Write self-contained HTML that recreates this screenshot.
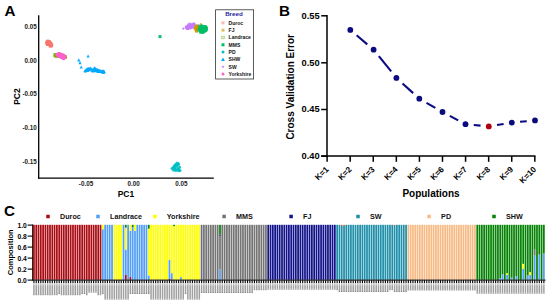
<!DOCTYPE html>
<html><head><meta charset="utf-8"><style>
html,body{margin:0;padding:0;background:#fff;}
svg{display:block;font-family:"Liberation Sans", sans-serif;}
</style></head><body>
<svg width="550" height="303" viewBox="0 0 550 303">
<rect width="550" height="303" fill="#fff"/>
<text x="4.50" y="15.90" font-size="15.2" text-anchor="start" fill="#000" font-weight="bold" >A</text>
<line x1="38.7" y1="15.3" x2="38.7" y2="178.8" stroke="#000" stroke-width="1.3"/>
<line x1="38.1" y1="178.2" x2="213.8" y2="178.2" stroke="#000" stroke-width="1.3"/>
<text x="36.80" y="28.60" font-size="6.3" text-anchor="end" fill="#222" font-weight="bold" >0.05</text>
<text x="36.80" y="62.80" font-size="6.3" text-anchor="end" fill="#222" font-weight="bold" >0.00</text>
<text x="36.80" y="96.40" font-size="6.3" text-anchor="end" fill="#222" font-weight="bold" >-0.05</text>
<text x="36.80" y="130.10" font-size="6.3" text-anchor="end" fill="#222" font-weight="bold" >-0.10</text>
<text x="36.80" y="163.60" font-size="6.3" text-anchor="end" fill="#222" font-weight="bold" >-0.15</text>
<text x="86.00" y="185.80" font-size="6.3" text-anchor="middle" fill="#222" font-weight="bold" >-0.05</text>
<text x="133.60" y="185.80" font-size="6.3" text-anchor="middle" fill="#222" font-weight="bold" >0.00</text>
<text x="181.40" y="185.80" font-size="6.3" text-anchor="middle" fill="#222" font-weight="bold" >0.05</text>
<text x="125.90" y="196.60" font-size="8.5" text-anchor="middle" fill="#000" font-weight="bold" >PC1</text>
<text transform="translate(20.0,96.6) rotate(-90)" font-size="8.5" font-weight="bold" text-anchor="middle" fill="#000">PC2</text>
<rect x="47.95" y="43.41" width="3.00" height="3.00" fill="#F8766D" fill-opacity="0.7"/>
<rect x="49.08" y="44.15" width="3.00" height="3.00" fill="#F8766D" fill-opacity="0.7"/>
<rect x="45.78" y="41.67" width="3.00" height="3.00" fill="#F8766D" fill-opacity="0.7"/>
<rect x="47.11" y="41.44" width="3.00" height="3.00" fill="#F8766D" fill-opacity="0.7"/>
<rect x="47.15" y="41.71" width="3.00" height="3.00" fill="#F8766D" fill-opacity="0.7"/>
<rect x="48.08" y="42.71" width="3.00" height="3.00" fill="#F8766D" fill-opacity="0.7"/>
<rect x="49.20" y="41.87" width="3.00" height="3.00" fill="#F8766D" fill-opacity="0.7"/>
<rect x="47.41" y="42.62" width="3.00" height="3.00" fill="#F8766D" fill-opacity="0.7"/>
<rect x="49.92" y="43.34" width="3.00" height="3.00" fill="#F8766D" fill-opacity="0.7"/>
<rect x="45.59" y="41.27" width="3.00" height="3.00" fill="#F8766D" fill-opacity="0.7"/>
<rect x="49.73" y="44.55" width="3.00" height="3.00" fill="#F8766D" fill-opacity="0.7"/>
<rect x="45.98" y="42.75" width="3.00" height="3.00" fill="#F8766D" fill-opacity="0.7"/>
<rect x="48.08" y="43.00" width="3.00" height="3.00" fill="#F8766D" fill-opacity="0.7"/>
<rect x="48.91" y="41.79" width="3.00" height="3.00" fill="#F8766D" fill-opacity="0.7"/>
<rect x="47.03" y="40.86" width="3.00" height="3.00" fill="#F8766D" fill-opacity="0.7"/>
<rect x="45.57" y="41.55" width="3.00" height="3.00" fill="#F8766D" fill-opacity="0.7"/>
<rect x="49.06" y="43.96" width="3.00" height="3.00" fill="#F8766D" fill-opacity="0.7"/>
<rect x="47.57" y="42.48" width="3.00" height="3.00" fill="#F8766D" fill-opacity="0.7"/>
<rect x="45.37" y="40.83" width="3.00" height="3.00" fill="#F8766D" fill-opacity="0.7"/>
<rect x="46.85" y="40.50" width="3.00" height="3.00" fill="#F8766D" fill-opacity="0.7"/>
<rect x="46.36" y="42.43" width="3.00" height="3.00" fill="#F8766D" fill-opacity="0.7"/>
<rect x="48.07" y="40.17" width="3.00" height="3.00" fill="#F8766D" fill-opacity="0.7"/>
<rect x="46.87" y="40.68" width="3.00" height="3.00" fill="#F8766D" fill-opacity="0.7"/>
<rect x="49.65" y="42.44" width="3.00" height="3.00" fill="#F8766D" fill-opacity="0.7"/>
<rect x="46.14" y="42.71" width="3.00" height="3.00" fill="#F8766D" fill-opacity="0.7"/>
<rect x="48.69" y="44.61" width="3.00" height="3.00" fill="#F8766D" fill-opacity="0.7"/>
<rect x="48.59" y="41.15" width="3.00" height="3.00" fill="#F8766D" fill-opacity="0.7"/>
<rect x="46.68" y="41.15" width="3.00" height="3.00" fill="#F8766D" fill-opacity="0.7"/>
<rect x="47.67" y="41.54" width="3.00" height="3.00" fill="#F8766D" fill-opacity="0.7"/>
<rect x="46.21" y="39.67" width="3.00" height="3.00" fill="#F8766D" fill-opacity="0.7"/>
<rect x="45.68" y="42.39" width="3.00" height="3.00" fill="#F8766D" fill-opacity="0.7"/>
<rect x="46.55" y="39.77" width="3.00" height="3.00" fill="#F8766D" fill-opacity="0.7"/>
<rect x="45.59" y="40.62" width="3.00" height="3.00" fill="#F8766D" fill-opacity="0.7"/>
<rect x="50.27" y="43.52" width="3.00" height="3.00" fill="#F8766D" fill-opacity="0.7"/>
<rect x="47.56" y="40.36" width="3.00" height="3.00" fill="#F8766D" fill-opacity="0.7"/>
<rect x="47.81" y="41.50" width="3.00" height="3.00" fill="#F8766D" fill-opacity="0.7"/>
<rect x="49.78" y="43.78" width="3.00" height="3.00" fill="#F8766D" fill-opacity="0.7"/>
<rect x="46.08" y="42.81" width="3.00" height="3.00" fill="#F8766D" fill-opacity="0.7"/>
<rect x="47.62" y="40.54" width="3.00" height="3.00" fill="#F8766D" fill-opacity="0.7"/>
<rect x="47.29" y="41.72" width="3.00" height="3.00" fill="#F8766D" fill-opacity="0.7"/>
<rect x="53.87" y="53.26" width="3.00" height="3.00" fill="#7CAE00" fill-opacity="0.9"/>
<rect x="53.63" y="54.18" width="3.00" height="3.00" fill="#7CAE00" fill-opacity="0.9"/>
<rect x="53.78" y="53.45" width="3.00" height="3.00" fill="#7CAE00" fill-opacity="0.9"/>
<rect x="54.36" y="54.32" width="3.00" height="3.00" fill="#7CAE00" fill-opacity="0.9"/>
<rect x="53.68" y="53.73" width="3.00" height="3.00" fill="#7CAE00" fill-opacity="0.9"/>
<rect x="54.71" y="54.34" width="3.00" height="3.00" fill="#7CAE00" fill-opacity="0.9"/>
<rect x="55.30" y="54.31" width="3.00" height="3.00" fill="#7CAE00" fill-opacity="0.9"/>
<rect x="54.11" y="53.68" width="3.00" height="3.00" fill="#7CAE00" fill-opacity="0.9"/>
<rect x="54.29" y="54.34" width="3.00" height="3.00" fill="#7CAE00" fill-opacity="0.9"/>
<rect x="55.61" y="53.31" width="3.00" height="3.00" fill="#7CAE00" fill-opacity="0.9"/>
<rect x="57.73" y="54.08" width="3.00" height="3.00" fill="#7CAE00" fill-opacity="0.85"/>
<rect x="58.13" y="54.71" width="3.00" height="3.00" fill="#7CAE00" fill-opacity="0.85"/>
<rect x="60.62" y="54.16" width="3.00" height="3.00" fill="#7CAE00" fill-opacity="0.85"/>
<rect x="56.53" y="54.55" width="3.00" height="3.00" fill="#7CAE00" fill-opacity="0.85"/>
<rect x="59.08" y="54.92" width="3.00" height="3.00" fill="#7CAE00" fill-opacity="0.85"/>
<rect x="63.17" y="55.23" width="3.00" height="3.00" fill="#7CAE00" fill-opacity="0.85"/>
<rect x="60.11" y="55.04" width="3.00" height="3.00" fill="#7CAE00" fill-opacity="0.85"/>
<rect x="61.23" y="53.63" width="3.00" height="3.00" fill="#7CAE00" fill-opacity="0.85"/>
<rect x="62.80" y="55.45" width="3.00" height="3.00" fill="#7CAE00" fill-opacity="0.85"/>
<rect x="62.62" y="55.49" width="3.00" height="3.00" fill="#7CAE00" fill-opacity="0.85"/>
<rect x="59.25" y="54.50" width="3.00" height="3.00" fill="#7CAE00" fill-opacity="0.85"/>
<rect x="57.22" y="55.09" width="3.00" height="3.00" fill="#7CAE00" fill-opacity="0.85"/>
<rect x="56.94" y="53.67" width="3.00" height="3.00" fill="#7CAE00" fill-opacity="0.85"/>
<rect x="57.96" y="53.91" width="3.00" height="3.00" fill="#7CAE00" fill-opacity="0.85"/>
<rect x="58.88" y="53.63" width="3.00" height="3.00" fill="#7CAE00" fill-opacity="0.85"/>
<rect x="63.90" y="55.30" width="2.80" height="2.80" fill="#7CAE00" fill-opacity="0.85"/>
<rect x="63.95" y="55.57" width="2.80" height="2.80" fill="#7CAE00" fill-opacity="0.85"/>
<rect x="63.91" y="56.24" width="2.80" height="2.80" fill="#7CAE00" fill-opacity="0.85"/>
<circle cx="61.91" cy="57.19" r="1.50" fill="#FF61CC" fill-opacity="0.75"/>
<circle cx="59.39" cy="56.09" r="1.50" fill="#FF61CC" fill-opacity="0.75"/>
<circle cx="61.90" cy="56.78" r="1.50" fill="#FF61CC" fill-opacity="0.75"/>
<circle cx="63.82" cy="56.38" r="1.50" fill="#FF61CC" fill-opacity="0.75"/>
<circle cx="58.20" cy="55.09" r="1.50" fill="#FF61CC" fill-opacity="0.75"/>
<circle cx="61.33" cy="56.14" r="1.50" fill="#FF61CC" fill-opacity="0.75"/>
<circle cx="60.12" cy="56.62" r="1.50" fill="#FF61CC" fill-opacity="0.75"/>
<circle cx="61.89" cy="57.47" r="1.50" fill="#FF61CC" fill-opacity="0.75"/>
<circle cx="61.13" cy="55.65" r="1.50" fill="#FF61CC" fill-opacity="0.75"/>
<circle cx="61.84" cy="57.07" r="1.50" fill="#FF61CC" fill-opacity="0.75"/>
<circle cx="63.06" cy="56.51" r="1.50" fill="#FF61CC" fill-opacity="0.75"/>
<circle cx="63.15" cy="56.09" r="1.50" fill="#FF61CC" fill-opacity="0.75"/>
<circle cx="59.96" cy="53.70" r="1.50" fill="#FF61CC" fill-opacity="0.75"/>
<circle cx="59.22" cy="55.98" r="1.50" fill="#FF61CC" fill-opacity="0.75"/>
<circle cx="60.99" cy="54.91" r="1.50" fill="#FF61CC" fill-opacity="0.75"/>
<circle cx="61.41" cy="54.41" r="1.50" fill="#FF61CC" fill-opacity="0.75"/>
<circle cx="60.66" cy="56.73" r="1.50" fill="#FF61CC" fill-opacity="0.75"/>
<circle cx="63.76" cy="56.28" r="1.50" fill="#FF61CC" fill-opacity="0.75"/>
<circle cx="62.13" cy="54.31" r="1.50" fill="#FF61CC" fill-opacity="0.75"/>
<circle cx="60.84" cy="53.89" r="1.50" fill="#FF61CC" fill-opacity="0.75"/>
<circle cx="58.98" cy="55.06" r="1.50" fill="#FF61CC" fill-opacity="0.75"/>
<circle cx="62.59" cy="56.34" r="1.50" fill="#FF61CC" fill-opacity="0.75"/>
<circle cx="60.41" cy="55.87" r="1.50" fill="#FF61CC" fill-opacity="0.75"/>
<circle cx="60.21" cy="54.56" r="1.50" fill="#FF61CC" fill-opacity="0.75"/>
<circle cx="57.23" cy="55.32" r="1.50" fill="#FF61CC" fill-opacity="0.75"/>
<circle cx="63.99" cy="56.37" r="1.50" fill="#FF61CC" fill-opacity="0.75"/>
<circle cx="58.00" cy="56.35" r="1.50" fill="#FF61CC" fill-opacity="0.75"/>
<circle cx="60.61" cy="56.52" r="1.50" fill="#FF61CC" fill-opacity="0.75"/>
<circle cx="60.83" cy="56.50" r="1.50" fill="#FF61CC" fill-opacity="0.75"/>
<circle cx="63.05" cy="55.35" r="1.50" fill="#FF61CC" fill-opacity="0.75"/>
<circle cx="61.01" cy="56.83" r="1.50" fill="#FF61CC" fill-opacity="0.75"/>
<circle cx="64.03" cy="55.74" r="1.50" fill="#FF61CC" fill-opacity="0.75"/>
<circle cx="62.91" cy="56.50" r="1.50" fill="#FF61CC" fill-opacity="0.75"/>
<circle cx="63.95" cy="55.42" r="1.50" fill="#FF61CC" fill-opacity="0.75"/>
<circle cx="61.14" cy="56.85" r="1.50" fill="#FF61CC" fill-opacity="0.75"/>
<circle cx="63.57" cy="56.32" r="1.50" fill="#FF61CC" fill-opacity="0.75"/>
<circle cx="63.80" cy="56.10" r="1.50" fill="#FF61CC" fill-opacity="0.75"/>
<circle cx="61.16" cy="57.74" r="1.50" fill="#FF61CC" fill-opacity="0.75"/>
<circle cx="64.68" cy="56.88" r="1.50" fill="#FF61CC" fill-opacity="0.75"/>
<circle cx="63.94" cy="58.49" r="1.50" fill="#FF61CC" fill-opacity="0.75"/>
<circle cx="63.60" cy="57.60" r="1.50" fill="#FF61CC" fill-opacity="0.75"/>
<circle cx="64.26" cy="55.56" r="1.50" fill="#FF61CC" fill-opacity="0.75"/>
<circle cx="63.72" cy="56.47" r="1.50" fill="#FF61CC" fill-opacity="0.75"/>
<circle cx="62.17" cy="55.31" r="1.50" fill="#FF61CC" fill-opacity="0.75"/>
<circle cx="61.92" cy="56.45" r="1.50" fill="#FF61CC" fill-opacity="0.75"/>
<circle cx="64.04" cy="57.21" r="1.50" fill="#FF61CC" fill-opacity="0.75"/>
<circle cx="62.08" cy="55.35" r="1.50" fill="#FF61CC" fill-opacity="0.75"/>
<circle cx="64.86" cy="56.76" r="1.50" fill="#FF61CC" fill-opacity="0.75"/>
<circle cx="64.43" cy="56.35" r="1.50" fill="#FF61CC" fill-opacity="0.75"/>
<circle cx="63.44" cy="58.65" r="1.50" fill="#FF61CC" fill-opacity="0.75"/>
<circle cx="62.73" cy="57.80" r="1.50" fill="#FF61CC" fill-opacity="0.75"/>
<circle cx="62.29" cy="56.38" r="1.50" fill="#FF61CC" fill-opacity="0.75"/>
<circle cx="62.07" cy="57.25" r="1.50" fill="#FF61CC" fill-opacity="0.75"/>
<circle cx="63.98" cy="56.78" r="1.50" fill="#FF61CC" fill-opacity="0.75"/>
<circle cx="61.79" cy="57.03" r="1.50" fill="#FF61CC" fill-opacity="0.75"/>
<circle cx="64.82" cy="56.50" r="1.50" fill="#FF61CC" fill-opacity="0.75"/>
<circle cx="64.63" cy="56.67" r="1.50" fill="#FF61CC" fill-opacity="0.75"/>
<circle cx="61.60" cy="56.46" r="1.50" fill="#FF61CC" fill-opacity="0.75"/>
<circle cx="64.87" cy="57.45" r="1.50" fill="#FF61CC" fill-opacity="0.75"/>
<circle cx="63.65" cy="58.19" r="1.50" fill="#FF61CC" fill-opacity="0.75"/>
<circle cx="58.53" cy="54.44" r="1.50" fill="#FF61CC" fill-opacity="0.75"/>
<circle cx="57.89" cy="54.57" r="1.50" fill="#FF61CC" fill-opacity="0.75"/>
<circle cx="57.30" cy="54.20" r="1.50" fill="#FF61CC" fill-opacity="0.75"/>
<circle cx="57.65" cy="54.43" r="1.50" fill="#FF61CC" fill-opacity="0.75"/>
<circle cx="58.74" cy="53.77" r="1.50" fill="#FF61CC" fill-opacity="0.75"/>
<circle cx="58.05" cy="54.38" r="1.50" fill="#FF61CC" fill-opacity="0.75"/>
<circle cx="58.37" cy="54.99" r="1.50" fill="#FF61CC" fill-opacity="0.75"/>
<circle cx="57.18" cy="54.46" r="1.50" fill="#FF61CC" fill-opacity="0.75"/>
<circle cx="58.57" cy="53.75" r="1.50" fill="#FF61CC" fill-opacity="0.75"/>
<circle cx="57.16" cy="54.83" r="1.50" fill="#FF61CC" fill-opacity="0.75"/>
<circle cx="57.33" cy="54.47" r="1.50" fill="#FF61CC" fill-opacity="0.75"/>
<circle cx="58.12" cy="53.83" r="1.50" fill="#FF61CC" fill-opacity="0.75"/>
<circle cx="57.51" cy="54.36" r="1.50" fill="#FF61CC" fill-opacity="0.75"/>
<circle cx="59.47" cy="54.25" r="1.50" fill="#FF61CC" fill-opacity="0.75"/>
<circle cx="59.40" cy="53.91" r="1.50" fill="#FF61CC" fill-opacity="0.75"/>
<circle cx="58.41" cy="55.47" r="1.50" fill="#FF61CC" fill-opacity="0.75"/>
<circle cx="59.55" cy="54.24" r="1.50" fill="#FF61CC" fill-opacity="0.75"/>
<circle cx="59.40" cy="55.20" r="1.50" fill="#FF61CC" fill-opacity="0.75"/>
<circle cx="58.01" cy="54.62" r="1.50" fill="#FF61CC" fill-opacity="0.75"/>
<circle cx="58.52" cy="54.77" r="1.50" fill="#FF61CC" fill-opacity="0.75"/>
<circle cx="58.30" cy="54.26" r="1.50" fill="#FF61CC" fill-opacity="0.75"/>
<circle cx="59.56" cy="53.97" r="1.50" fill="#FF61CC" fill-opacity="0.75"/>
<circle cx="58.38" cy="54.12" r="1.50" fill="#FF61CC" fill-opacity="0.75"/>
<circle cx="59.26" cy="55.14" r="1.50" fill="#FF61CC" fill-opacity="0.75"/>
<circle cx="59.88" cy="54.31" r="1.50" fill="#FF61CC" fill-opacity="0.75"/>
<circle cx="59.17" cy="54.36" r="1.50" fill="#FF61CC" fill-opacity="0.75"/>
<circle cx="57.56" cy="54.55" r="1.50" fill="#FF61CC" fill-opacity="0.75"/>
<circle cx="59.24" cy="53.64" r="1.50" fill="#FF61CC" fill-opacity="0.75"/>
<circle cx="57.95" cy="54.67" r="1.50" fill="#FF61CC" fill-opacity="0.75"/>
<circle cx="57.93" cy="55.11" r="1.50" fill="#FF61CC" fill-opacity="0.75"/>
<path d="M88.10 54.48L89.75 57.58L86.45 57.58Z" fill="#00A9FF" fill-opacity="0.95"/>
<path d="M78.80 58.27L80.45 61.38L77.15 61.38Z" fill="#00A9FF" fill-opacity="0.95"/>
<path d="M80.00 61.07L81.65 64.18L78.35 64.18Z" fill="#00A9FF" fill-opacity="0.95"/>
<path d="M81.20 65.38L82.85 68.48L79.55 68.48Z" fill="#00A9FF" fill-opacity="0.95"/>
<path d="M87.12 68.59L88.77 71.69L85.47 71.69Z" fill="#00A9FF" fill-opacity="0.8"/>
<path d="M90.23 66.74L91.88 69.85L88.58 69.85Z" fill="#00A9FF" fill-opacity="0.8"/>
<path d="M85.44 69.20L87.09 72.30L83.79 72.30Z" fill="#00A9FF" fill-opacity="0.8"/>
<path d="M87.35 68.10L89.00 71.20L85.70 71.20Z" fill="#00A9FF" fill-opacity="0.8"/>
<path d="M84.97 68.97L86.62 72.08L83.32 72.08Z" fill="#00A9FF" fill-opacity="0.8"/>
<path d="M88.29 67.48L89.94 70.58L86.64 70.58Z" fill="#00A9FF" fill-opacity="0.8"/>
<path d="M90.19 66.41L91.84 69.52L88.54 69.52Z" fill="#00A9FF" fill-opacity="0.8"/>
<path d="M87.56 68.27L89.21 71.38L85.91 71.38Z" fill="#00A9FF" fill-opacity="0.8"/>
<path d="M87.52 67.61L89.17 70.71L85.87 70.71Z" fill="#00A9FF" fill-opacity="0.8"/>
<path d="M88.82 67.76L90.47 70.86L87.17 70.86Z" fill="#00A9FF" fill-opacity="0.8"/>
<path d="M89.08 66.69L90.73 69.79L87.43 69.79Z" fill="#00A9FF" fill-opacity="0.8"/>
<path d="M87.80 68.93L89.45 72.04L86.15 72.04Z" fill="#00A9FF" fill-opacity="0.8"/>
<path d="M88.48 67.17L90.13 70.28L86.83 70.28Z" fill="#00A9FF" fill-opacity="0.8"/>
<path d="M86.40 67.44L88.05 70.54L84.75 70.54Z" fill="#00A9FF" fill-opacity="0.8"/>
<path d="M88.44 67.58L90.09 70.68L86.79 70.68Z" fill="#00A9FF" fill-opacity="0.8"/>
<path d="M85.34 69.38L86.99 72.48L83.69 72.48Z" fill="#00A9FF" fill-opacity="0.8"/>
<path d="M88.24 67.40L89.89 70.50L86.59 70.50Z" fill="#00A9FF" fill-opacity="0.8"/>
<path d="M87.92 66.68L89.57 69.78L86.27 69.78Z" fill="#00A9FF" fill-opacity="0.8"/>
<path d="M94.04 67.07L95.69 70.18L92.39 70.18Z" fill="#00A9FF" fill-opacity="0.8"/>
<path d="M94.00 67.14L95.65 70.25L92.35 70.25Z" fill="#00A9FF" fill-opacity="0.8"/>
<path d="M92.43 68.83L94.08 71.94L90.78 71.94Z" fill="#00A9FF" fill-opacity="0.8"/>
<path d="M95.50 66.85L97.15 69.95L93.85 69.95Z" fill="#00A9FF" fill-opacity="0.8"/>
<path d="M94.57 68.40L96.22 71.51L92.92 71.51Z" fill="#00A9FF" fill-opacity="0.8"/>
<path d="M93.66 69.17L95.31 72.27L92.01 72.27Z" fill="#00A9FF" fill-opacity="0.8"/>
<path d="M94.02 68.19L95.67 71.30L92.37 71.30Z" fill="#00A9FF" fill-opacity="0.8"/>
<path d="M93.70 68.05L95.35 71.15L92.05 71.15Z" fill="#00A9FF" fill-opacity="0.8"/>
<path d="M92.93 68.73L94.58 71.84L91.28 71.84Z" fill="#00A9FF" fill-opacity="0.8"/>
<path d="M92.85 69.43L94.50 72.54L91.20 72.54Z" fill="#00A9FF" fill-opacity="0.8"/>
<path d="M94.43 68.97L96.08 72.08L92.78 72.08Z" fill="#00A9FF" fill-opacity="0.8"/>
<path d="M95.26 67.72L96.91 70.83L93.61 70.83Z" fill="#00A9FF" fill-opacity="0.8"/>
<path d="M94.99 67.68L96.64 70.79L93.34 70.79Z" fill="#00A9FF" fill-opacity="0.8"/>
<path d="M91.06 66.98L92.71 70.09L89.41 70.09Z" fill="#00A9FF" fill-opacity="0.8"/>
<path d="M92.21 67.73L93.86 70.83L90.56 70.83Z" fill="#00A9FF" fill-opacity="0.8"/>
<path d="M95.78 68.89L97.43 72.00L94.13 72.00Z" fill="#00A9FF" fill-opacity="0.8"/>
<path d="M91.03 68.40L92.68 71.50L89.38 71.50Z" fill="#00A9FF" fill-opacity="0.8"/>
<path d="M94.57 66.24L96.22 69.35L92.92 69.35Z" fill="#00A9FF" fill-opacity="0.8"/>
<path d="M96.39 68.47L98.04 71.58L94.74 71.58Z" fill="#00A9FF" fill-opacity="0.8"/>
<path d="M101.32 69.71L102.97 72.81L99.67 72.81Z" fill="#00A9FF" fill-opacity="0.8"/>
<path d="M99.65 68.70L101.30 71.80L98.00 71.80Z" fill="#00A9FF" fill-opacity="0.8"/>
<path d="M96.85 67.78L98.50 70.88L95.20 70.88Z" fill="#00A9FF" fill-opacity="0.8"/>
<path d="M97.09 69.40L98.74 72.50L95.44 72.50Z" fill="#00A9FF" fill-opacity="0.8"/>
<path d="M98.98 69.43L100.63 72.54L97.33 72.54Z" fill="#00A9FF" fill-opacity="0.8"/>
<path d="M98.54 68.73L100.19 71.83L96.89 71.83Z" fill="#00A9FF" fill-opacity="0.8"/>
<path d="M99.24 69.86L100.89 72.96L97.59 72.96Z" fill="#00A9FF" fill-opacity="0.8"/>
<path d="M99.12 68.91L100.77 72.02L97.47 72.02Z" fill="#00A9FF" fill-opacity="0.8"/>
<path d="M97.27 67.64L98.92 70.75L95.62 70.75Z" fill="#00A9FF" fill-opacity="0.8"/>
<path d="M98.41 69.76L100.06 72.87L96.76 72.87Z" fill="#00A9FF" fill-opacity="0.8"/>
<path d="M96.68 68.77L98.33 71.88L95.03 71.88Z" fill="#00A9FF" fill-opacity="0.8"/>
<path d="M97.19 68.90L98.84 72.01L95.54 72.01Z" fill="#00A9FF" fill-opacity="0.8"/>
<path d="M100.23 69.37L101.88 72.48L98.58 72.48Z" fill="#00A9FF" fill-opacity="0.8"/>
<path d="M95.41 67.86L97.06 70.96L93.76 70.96Z" fill="#00A9FF" fill-opacity="0.8"/>
<path d="M100.17 69.38L101.82 72.48L98.52 72.48Z" fill="#00A9FF" fill-opacity="0.8"/>
<path d="M97.19 69.31L98.84 72.41L95.54 72.41Z" fill="#00A9FF" fill-opacity="0.8"/>
<path d="M98.41 69.08L100.06 72.19L96.76 72.19Z" fill="#00A9FF" fill-opacity="0.8"/>
<path d="M101.92 69.88L103.57 72.98L100.27 72.98Z" fill="#00A9FF" fill-opacity="0.8"/>
<path d="M102.30 69.94L103.95 73.05L100.65 73.05Z" fill="#00A9FF" fill-opacity="0.8"/>
<path d="M102.98 70.12L104.63 73.23L101.33 73.23Z" fill="#00A9FF" fill-opacity="0.8"/>
<path d="M102.60 70.13L104.25 73.23L100.95 73.23Z" fill="#00A9FF" fill-opacity="0.8"/>
<path d="M103.31 70.15L104.96 73.26L101.66 73.26Z" fill="#00A9FF" fill-opacity="0.8"/>
<path d="M103.03 70.47L104.68 73.57L101.38 73.57Z" fill="#00A9FF" fill-opacity="0.8"/>
<path d="M101.83 69.77L103.48 72.87L100.18 72.87Z" fill="#00A9FF" fill-opacity="0.8"/>
<path d="M102.34 69.44L103.99 72.55L100.69 72.55Z" fill="#00A9FF" fill-opacity="0.8"/>
<path d="M104.04 69.84L105.69 72.95L102.39 72.95Z" fill="#00A9FF" fill-opacity="0.8"/>
<path d="M102.48 70.38L104.13 73.48L100.83 73.48Z" fill="#00A9FF" fill-opacity="0.8"/>
<path d="M103.83 70.79L105.48 73.89L102.18 73.89Z" fill="#00A9FF" fill-opacity="0.8"/>
<path d="M102.25 69.47L103.90 72.57L100.60 72.57Z" fill="#00A9FF" fill-opacity="0.8"/>
<path d="M103.19 69.98L104.84 73.09L101.54 73.09Z" fill="#00A9FF" fill-opacity="0.8"/>
<path d="M102.05 69.43L103.70 72.53L100.40 72.53Z" fill="#00A9FF" fill-opacity="0.8"/>
<path d="M103.61 69.62L105.26 72.72L101.96 72.72Z" fill="#00A9FF" fill-opacity="0.8"/>
<path d="M102.43 69.93L104.08 73.04L100.78 73.04Z" fill="#00A9FF" fill-opacity="0.8"/>
<path d="M103.64 69.75L105.29 72.86L101.99 72.86Z" fill="#00A9FF" fill-opacity="0.8"/>
<path d="M103.75 69.64L105.40 72.75L102.10 72.75Z" fill="#00A9FF" fill-opacity="0.8"/>
<rect x="158.50" y="35.10" width="3.00" height="3.00" fill="#00BE67" fill-opacity="0.95"/>
<path d="M192.86 22.26L194.31 23.71L192.86 25.16L191.41 23.71Z" fill="#C77CFF" fill-opacity="0.75"/>
<path d="M189.12 22.94L190.57 24.39L189.12 25.84L187.67 24.39Z" fill="#C77CFF" fill-opacity="0.75"/>
<path d="M192.92 23.83L194.37 25.28L192.92 26.73L191.47 25.28Z" fill="#C77CFF" fill-opacity="0.75"/>
<path d="M190.36 25.39L191.81 26.84L190.36 28.29L188.91 26.84Z" fill="#C77CFF" fill-opacity="0.75"/>
<path d="M191.38 23.42L192.83 24.87L191.38 26.32L189.93 24.87Z" fill="#C77CFF" fill-opacity="0.75"/>
<path d="M188.45 23.87L189.90 25.32L188.45 26.77L187.00 25.32Z" fill="#C77CFF" fill-opacity="0.75"/>
<path d="M189.00 23.15L190.45 24.60L189.00 26.05L187.55 24.60Z" fill="#C77CFF" fill-opacity="0.75"/>
<path d="M193.74 23.28L195.19 24.73L193.74 26.18L192.29 24.73Z" fill="#C77CFF" fill-opacity="0.75"/>
<path d="M190.09 22.21L191.54 23.66L190.09 25.11L188.64 23.66Z" fill="#C77CFF" fill-opacity="0.75"/>
<path d="M188.15 25.06L189.60 26.51L188.15 27.96L186.70 26.51Z" fill="#C77CFF" fill-opacity="0.75"/>
<path d="M194.21 23.97L195.66 25.42L194.21 26.87L192.76 25.42Z" fill="#C77CFF" fill-opacity="0.75"/>
<path d="M191.79 26.44L193.24 27.89L191.79 29.34L190.34 27.89Z" fill="#C77CFF" fill-opacity="0.75"/>
<path d="M191.16 25.05L192.61 26.50L191.16 27.95L189.71 26.50Z" fill="#C77CFF" fill-opacity="0.75"/>
<path d="M192.72 25.95L194.17 27.40L192.72 28.85L191.27 27.40Z" fill="#C77CFF" fill-opacity="0.75"/>
<path d="M194.18 22.70L195.63 24.15L194.18 25.60L192.73 24.15Z" fill="#C77CFF" fill-opacity="0.75"/>
<path d="M189.44 26.31L190.89 27.76L189.44 29.21L187.99 27.76Z" fill="#C77CFF" fill-opacity="0.75"/>
<path d="M189.29 23.26L190.74 24.71L189.29 26.16L187.84 24.71Z" fill="#C77CFF" fill-opacity="0.75"/>
<path d="M187.90 23.96L189.35 25.41L187.90 26.86L186.45 25.41Z" fill="#C77CFF" fill-opacity="0.75"/>
<path d="M194.12 24.14L195.57 25.59L194.12 27.04L192.67 25.59Z" fill="#C77CFF" fill-opacity="0.75"/>
<path d="M191.34 25.29L192.79 26.74L191.34 28.19L189.89 26.74Z" fill="#C77CFF" fill-opacity="0.75"/>
<path d="M190.67 26.76L192.12 28.21L190.67 29.66L189.22 28.21Z" fill="#C77CFF" fill-opacity="0.75"/>
<path d="M193.98 23.31L195.43 24.76L193.98 26.21L192.53 24.76Z" fill="#C77CFF" fill-opacity="0.75"/>
<path d="M191.13 24.99L192.58 26.44L191.13 27.89L189.68 26.44Z" fill="#C77CFF" fill-opacity="0.75"/>
<path d="M189.12 22.96L190.57 24.41L189.12 25.86L187.67 24.41Z" fill="#C77CFF" fill-opacity="0.75"/>
<path d="M190.96 26.60L192.41 28.05L190.96 29.50L189.51 28.05Z" fill="#C77CFF" fill-opacity="0.75"/>
<path d="M188.42 25.83L189.87 27.28L188.42 28.73L186.97 27.28Z" fill="#C77CFF" fill-opacity="0.75"/>
<path d="M193.41 24.68L194.86 26.13L193.41 27.58L191.96 26.13Z" fill="#C77CFF" fill-opacity="0.75"/>
<path d="M193.03 26.05L194.48 27.50L193.03 28.95L191.58 27.50Z" fill="#C77CFF" fill-opacity="0.75"/>
<path d="M194.17 21.99L195.62 23.44L194.17 24.89L192.72 23.44Z" fill="#C77CFF" fill-opacity="0.75"/>
<path d="M190.53 24.63L191.98 26.08L190.53 27.53L189.08 26.08Z" fill="#C77CFF" fill-opacity="0.75"/>
<path d="M194.28 22.52L195.73 23.97L194.28 25.42L192.83 23.97Z" fill="#C77CFF" fill-opacity="0.75"/>
<path d="M191.34 26.08L192.79 27.53L191.34 28.98L189.89 27.53Z" fill="#C77CFF" fill-opacity="0.75"/>
<path d="M192.53 23.30L193.98 24.75L192.53 26.20L191.08 24.75Z" fill="#C77CFF" fill-opacity="0.75"/>
<path d="M189.22 24.44L190.67 25.89L189.22 27.34L187.77 25.89Z" fill="#C77CFF" fill-opacity="0.75"/>
<path d="M189.50 24.80L190.95 26.25L189.50 27.70L188.05 26.25Z" fill="#C77CFF" fill-opacity="0.75"/>
<path d="M194.26 25.06L195.71 26.51L194.26 27.96L192.81 26.51Z" fill="#C77CFF" fill-opacity="0.75"/>
<path d="M187.43 25.65L188.88 27.10L187.43 28.55L185.98 27.10Z" fill="#C77CFF" fill-opacity="0.75"/>
<path d="M189.06 22.60L190.51 24.05L189.06 25.50L187.61 24.05Z" fill="#C77CFF" fill-opacity="0.75"/>
<path d="M192.22 23.05L193.67 24.50L192.22 25.95L190.77 24.50Z" fill="#C77CFF" fill-opacity="0.75"/>
<path d="M193.79 23.53L195.24 24.98L193.79 26.43L192.34 24.98Z" fill="#C77CFF" fill-opacity="0.75"/>
<path d="M190.77 24.45L192.22 25.90L190.77 27.35L189.32 25.90Z" fill="#C77CFF" fill-opacity="0.75"/>
<path d="M190.78 26.22L192.23 27.67L190.78 29.12L189.33 27.67Z" fill="#C77CFF" fill-opacity="0.75"/>
<path d="M190.49 25.43L191.94 26.88L190.49 28.33L189.04 26.88Z" fill="#C77CFF" fill-opacity="0.75"/>
<path d="M191.71 22.73L193.16 24.18L191.71 25.63L190.26 24.18Z" fill="#C77CFF" fill-opacity="0.75"/>
<path d="M190.96 24.25L192.41 25.70L190.96 27.15L189.51 25.70Z" fill="#C77CFF" fill-opacity="0.75"/>
<path d="M188.80 26.87L190.25 28.32L188.80 29.77L187.35 28.32Z" fill="#C77CFF" fill-opacity="0.75"/>
<path d="M187.20 24.83L188.65 26.28L187.20 27.73L185.75 26.28Z" fill="#C77CFF" fill-opacity="0.75"/>
<path d="M187.18 27.25L188.63 28.70L187.18 30.15L185.73 28.70Z" fill="#C77CFF" fill-opacity="0.75"/>
<path d="M186.74 26.54L188.19 27.99L186.74 29.44L185.29 27.99Z" fill="#C77CFF" fill-opacity="0.75"/>
<path d="M186.08 25.36L187.53 26.81L186.08 28.26L184.63 26.81Z" fill="#C77CFF" fill-opacity="0.75"/>
<path d="M186.63 26.39L188.08 27.84L186.63 29.29L185.18 27.84Z" fill="#C77CFF" fill-opacity="0.75"/>
<path d="M188.50 26.25L189.95 27.70L188.50 29.15L187.05 27.70Z" fill="#C77CFF" fill-opacity="0.75"/>
<path d="M187.89 25.69L189.34 27.14L187.89 28.59L186.44 27.14Z" fill="#C77CFF" fill-opacity="0.75"/>
<path d="M188.48 25.78L189.93 27.23L188.48 28.68L187.03 27.23Z" fill="#C77CFF" fill-opacity="0.75"/>
<path d="M187.51 26.70L188.96 28.15L187.51 29.60L186.06 28.15Z" fill="#C77CFF" fill-opacity="0.75"/>
<path d="M188.07 26.91L189.52 28.36L188.07 29.81L186.62 28.36Z" fill="#C77CFF" fill-opacity="0.75"/>
<path d="M188.66 25.83L190.11 27.28L188.66 28.73L187.21 27.28Z" fill="#C77CFF" fill-opacity="0.75"/>
<path d="M188.24 24.92L189.69 26.37L188.24 27.82L186.79 26.37Z" fill="#C77CFF" fill-opacity="0.75"/>
<path d="M188.82 25.52L190.27 26.97L188.82 28.42L187.37 26.97Z" fill="#C77CFF" fill-opacity="0.75"/>
<path d="M185.94 25.67L187.39 27.12L185.94 28.57L184.49 27.12Z" fill="#C77CFF" fill-opacity="0.75"/>
<path d="M189.05 26.39L190.50 27.84L189.05 29.29L187.60 27.84Z" fill="#C77CFF" fill-opacity="0.75"/>
<path d="M186.13 26.39L187.58 27.84L186.13 29.29L184.68 27.84Z" fill="#C77CFF" fill-opacity="0.75"/>
<path d="M186.64 25.16L188.09 26.61L186.64 28.06L185.19 26.61Z" fill="#C77CFF" fill-opacity="0.75"/>
<path d="M188.52 26.26L189.97 27.71L188.52 29.16L187.07 27.71Z" fill="#C77CFF" fill-opacity="0.75"/>
<path d="M188.81 26.95L190.26 28.40L188.81 29.85L187.36 28.40Z" fill="#C77CFF" fill-opacity="0.75"/>
<path d="M186.91 26.79L188.36 28.24L186.91 29.69L185.46 28.24Z" fill="#C77CFF" fill-opacity="0.75"/>
<path d="M187.53 25.34L188.98 26.79L187.53 28.24L186.08 26.79Z" fill="#C77CFF" fill-opacity="0.75"/>
<path d="M187.49 27.33L188.94 28.78L187.49 30.23L186.04 28.78Z" fill="#C77CFF" fill-opacity="0.75"/>
<path d="M187.14 27.05L188.59 28.50L187.14 29.95L185.69 28.50Z" fill="#C77CFF" fill-opacity="0.75"/>
<path d="M186.54 26.65L187.99 28.10L186.54 29.55L185.09 28.10Z" fill="#C77CFF" fill-opacity="0.75"/>
<path d="M187.99 26.50L189.44 27.95L187.99 29.40L186.54 27.95Z" fill="#C77CFF" fill-opacity="0.75"/>
<path d="M188.28 25.72L189.73 27.17L188.28 28.62L186.83 27.17Z" fill="#C77CFF" fill-opacity="0.75"/>
<path d="M187.84 26.95L189.29 28.40L187.84 29.85L186.39 28.40Z" fill="#C77CFF" fill-opacity="0.75"/>
<path d="M189.31 26.02L190.76 27.47L189.31 28.92L187.86 27.47Z" fill="#C77CFF" fill-opacity="0.75"/>
<path d="M188.37 26.72L189.82 28.17L188.37 29.62L186.92 28.17Z" fill="#C77CFF" fill-opacity="0.75"/>
<path d="M188.26 26.36L189.71 27.81L188.26 29.26L186.81 27.81Z" fill="#C77CFF" fill-opacity="0.75"/>
<path d="M188.48 26.46L189.93 27.91L188.48 29.36L187.03 27.91Z" fill="#C77CFF" fill-opacity="0.75"/>
<path d="M187.55 26.68L189.00 28.13L187.55 29.58L186.10 28.13Z" fill="#C77CFF" fill-opacity="0.75"/>
<path d="M188.63 25.41L190.08 26.86L188.63 28.31L187.18 26.86Z" fill="#C77CFF" fill-opacity="0.75"/>
<path d="M186.27 26.64L187.72 28.09L186.27 29.54L184.82 28.09Z" fill="#C77CFF" fill-opacity="0.75"/>
<path d="M186.46 25.92L187.91 27.37L186.46 28.82L185.01 27.37Z" fill="#C77CFF" fill-opacity="0.75"/>
<path d="M187.02 26.73L188.47 28.18L187.02 29.63L185.57 28.18Z" fill="#C77CFF" fill-opacity="0.75"/>
<path d="M187.52 26.37L188.97 27.82L187.52 29.27L186.07 27.82Z" fill="#C77CFF" fill-opacity="0.75"/>
<path d="M188.85 26.96L190.30 28.41L188.85 29.86L187.40 28.41Z" fill="#C77CFF" fill-opacity="0.75"/>
<path d="M186.72 25.38L188.17 26.83L186.72 28.28L185.27 26.83Z" fill="#C77CFF" fill-opacity="0.75"/>
<path d="M187.95 27.23L189.40 28.68L187.95 30.13L186.50 28.68Z" fill="#C77CFF" fill-opacity="0.75"/>
<path d="M187.61 26.73L189.06 28.18L187.61 29.63L186.16 28.18Z" fill="#C77CFF" fill-opacity="0.75"/>
<path d="M186.53 26.32L187.98 27.77L186.53 29.22L185.08 27.77Z" fill="#C77CFF" fill-opacity="0.75"/>
<path d="M188.62 25.02L190.07 26.47L188.62 27.92L187.17 26.47Z" fill="#C77CFF" fill-opacity="0.75"/>
<path d="M189.27 26.22L190.72 27.67L189.27 29.12L187.82 27.67Z" fill="#C77CFF" fill-opacity="0.75"/>
<path d="M183.30 27.20L184.70 28.60L183.30 30.00L181.90 28.60Z" fill="#C77CFF" fill-opacity="0.9"/>
<path d="M198.70 23.70L200.00 25.00L198.70 26.30L197.40 25.00Z" fill="#C77CFF" fill-opacity="0.9"/>
<rect x="195.13" y="26.61" width="2.80" height="2.80" fill="#CD9600" fill-opacity="0.85"/>
<rect x="193.71" y="27.54" width="2.80" height="2.80" fill="#CD9600" fill-opacity="0.85"/>
<rect x="196.43" y="27.10" width="2.80" height="2.80" fill="#CD9600" fill-opacity="0.85"/>
<rect x="196.10" y="26.32" width="2.80" height="2.80" fill="#CD9600" fill-opacity="0.85"/>
<rect x="196.09" y="25.09" width="2.80" height="2.80" fill="#CD9600" fill-opacity="0.85"/>
<rect x="195.22" y="29.86" width="2.80" height="2.80" fill="#CD9600" fill-opacity="0.85"/>
<rect x="195.50" y="27.86" width="2.80" height="2.80" fill="#CD9600" fill-opacity="0.85"/>
<rect x="194.72" y="25.26" width="2.80" height="2.80" fill="#CD9600" fill-opacity="0.85"/>
<rect x="194.93" y="24.43" width="2.80" height="2.80" fill="#CD9600" fill-opacity="0.85"/>
<rect x="195.32" y="24.86" width="2.80" height="2.80" fill="#CD9600" fill-opacity="0.85"/>
<rect x="194.17" y="26.50" width="2.80" height="2.80" fill="#CD9600" fill-opacity="0.85"/>
<rect x="195.26" y="26.55" width="2.80" height="2.80" fill="#CD9600" fill-opacity="0.85"/>
<rect x="195.88" y="26.45" width="2.80" height="2.80" fill="#CD9600" fill-opacity="0.85"/>
<rect x="194.77" y="29.22" width="2.80" height="2.80" fill="#CD9600" fill-opacity="0.85"/>
<rect x="200.00" y="23.00" width="2.00" height="2.00" fill="#CD9600" fill-opacity="0.6"/>
<rect x="200.79" y="28.92" width="2.80" height="2.80" fill="#00BE67" fill-opacity="0.75"/>
<rect x="199.89" y="25.13" width="2.80" height="2.80" fill="#00BE67" fill-opacity="0.75"/>
<rect x="201.89" y="28.19" width="2.80" height="2.80" fill="#00BE67" fill-opacity="0.75"/>
<rect x="198.54" y="26.47" width="2.80" height="2.80" fill="#00BE67" fill-opacity="0.75"/>
<rect x="201.17" y="29.79" width="2.80" height="2.80" fill="#00BE67" fill-opacity="0.75"/>
<rect x="203.58" y="27.87" width="2.80" height="2.80" fill="#00BE67" fill-opacity="0.75"/>
<rect x="198.88" y="28.16" width="2.80" height="2.80" fill="#00BE67" fill-opacity="0.75"/>
<rect x="198.63" y="25.07" width="2.80" height="2.80" fill="#00BE67" fill-opacity="0.75"/>
<rect x="197.46" y="28.19" width="2.80" height="2.80" fill="#00BE67" fill-opacity="0.75"/>
<rect x="200.83" y="29.35" width="2.80" height="2.80" fill="#00BE67" fill-opacity="0.75"/>
<rect x="199.81" y="24.50" width="2.80" height="2.80" fill="#00BE67" fill-opacity="0.75"/>
<rect x="202.78" y="27.96" width="2.80" height="2.80" fill="#00BE67" fill-opacity="0.75"/>
<rect x="199.64" y="25.57" width="2.80" height="2.80" fill="#00BE67" fill-opacity="0.75"/>
<rect x="200.69" y="29.90" width="2.80" height="2.80" fill="#00BE67" fill-opacity="0.75"/>
<rect x="203.42" y="26.44" width="2.80" height="2.80" fill="#00BE67" fill-opacity="0.75"/>
<rect x="202.48" y="28.04" width="2.80" height="2.80" fill="#00BE67" fill-opacity="0.75"/>
<rect x="198.96" y="28.65" width="2.80" height="2.80" fill="#00BE67" fill-opacity="0.75"/>
<rect x="201.75" y="30.36" width="2.80" height="2.80" fill="#00BE67" fill-opacity="0.75"/>
<rect x="200.58" y="24.67" width="2.80" height="2.80" fill="#00BE67" fill-opacity="0.75"/>
<rect x="201.51" y="30.02" width="2.80" height="2.80" fill="#00BE67" fill-opacity="0.75"/>
<rect x="199.46" y="30.80" width="2.80" height="2.80" fill="#00BE67" fill-opacity="0.75"/>
<rect x="201.19" y="30.76" width="2.80" height="2.80" fill="#00BE67" fill-opacity="0.75"/>
<rect x="200.91" y="26.10" width="2.80" height="2.80" fill="#00BE67" fill-opacity="0.75"/>
<rect x="202.67" y="27.15" width="2.80" height="2.80" fill="#00BE67" fill-opacity="0.75"/>
<rect x="201.77" y="29.91" width="2.80" height="2.80" fill="#00BE67" fill-opacity="0.75"/>
<rect x="199.32" y="28.50" width="2.80" height="2.80" fill="#00BE67" fill-opacity="0.75"/>
<rect x="203.59" y="26.82" width="2.80" height="2.80" fill="#00BE67" fill-opacity="0.75"/>
<rect x="199.72" y="28.51" width="2.80" height="2.80" fill="#00BE67" fill-opacity="0.75"/>
<rect x="202.44" y="27.45" width="2.80" height="2.80" fill="#00BE67" fill-opacity="0.75"/>
<rect x="202.08" y="28.11" width="2.80" height="2.80" fill="#00BE67" fill-opacity="0.75"/>
<rect x="200.11" y="28.22" width="2.80" height="2.80" fill="#00BE67" fill-opacity="0.75"/>
<rect x="203.34" y="25.55" width="2.80" height="2.80" fill="#00BE67" fill-opacity="0.75"/>
<rect x="203.88" y="27.65" width="2.80" height="2.80" fill="#00BE67" fill-opacity="0.75"/>
<rect x="199.14" y="30.58" width="2.80" height="2.80" fill="#00BE67" fill-opacity="0.75"/>
<rect x="202.23" y="27.13" width="2.80" height="2.80" fill="#00BE67" fill-opacity="0.75"/>
<rect x="203.85" y="28.28" width="2.80" height="2.80" fill="#00BE67" fill-opacity="0.75"/>
<rect x="198.68" y="29.61" width="2.80" height="2.80" fill="#00BE67" fill-opacity="0.75"/>
<rect x="199.72" y="29.51" width="2.80" height="2.80" fill="#00BE67" fill-opacity="0.75"/>
<rect x="202.28" y="27.73" width="2.80" height="2.80" fill="#00BE67" fill-opacity="0.75"/>
<rect x="199.67" y="29.15" width="2.80" height="2.80" fill="#00BE67" fill-opacity="0.75"/>
<rect x="203.31" y="30.03" width="2.80" height="2.80" fill="#00BE67" fill-opacity="0.75"/>
<rect x="201.73" y="30.92" width="2.80" height="2.80" fill="#00BE67" fill-opacity="0.75"/>
<rect x="201.73" y="25.87" width="2.80" height="2.80" fill="#00BE67" fill-opacity="0.75"/>
<rect x="197.83" y="28.97" width="2.80" height="2.80" fill="#00BE67" fill-opacity="0.75"/>
<rect x="200.01" y="27.83" width="2.80" height="2.80" fill="#00BE67" fill-opacity="0.75"/>
<rect x="202.72" y="26.69" width="2.80" height="2.80" fill="#00BE67" fill-opacity="0.75"/>
<rect x="199.76" y="28.83" width="2.80" height="2.80" fill="#00BE67" fill-opacity="0.75"/>
<rect x="204.15" y="28.31" width="2.80" height="2.80" fill="#00BE67" fill-opacity="0.75"/>
<rect x="201.67" y="25.68" width="2.80" height="2.80" fill="#00BE67" fill-opacity="0.75"/>
<rect x="203.85" y="28.45" width="2.80" height="2.80" fill="#00BE67" fill-opacity="0.75"/>
<rect x="201.42" y="27.94" width="2.80" height="2.80" fill="#00BE67" fill-opacity="0.75"/>
<rect x="200.65" y="30.96" width="2.80" height="2.80" fill="#00BE67" fill-opacity="0.75"/>
<rect x="203.30" y="25.95" width="2.80" height="2.80" fill="#00BE67" fill-opacity="0.75"/>
<rect x="200.51" y="29.66" width="2.80" height="2.80" fill="#00BE67" fill-opacity="0.75"/>
<rect x="198.19" y="25.47" width="2.80" height="2.80" fill="#00BE67" fill-opacity="0.75"/>
<rect x="203.46" y="26.10" width="2.80" height="2.80" fill="#00BE67" fill-opacity="0.75"/>
<rect x="203.48" y="28.42" width="2.80" height="2.80" fill="#00BE67" fill-opacity="0.75"/>
<rect x="203.60" y="27.06" width="2.80" height="2.80" fill="#00BE67" fill-opacity="0.75"/>
<rect x="202.77" y="25.63" width="2.80" height="2.80" fill="#00BE67" fill-opacity="0.75"/>
<rect x="204.85" y="27.52" width="2.80" height="2.80" fill="#00BE67" fill-opacity="0.75"/>
<rect x="202.98" y="27.37" width="2.80" height="2.80" fill="#00BE67" fill-opacity="0.75"/>
<rect x="204.82" y="26.59" width="2.80" height="2.80" fill="#00BE67" fill-opacity="0.75"/>
<rect x="203.59" y="28.57" width="2.80" height="2.80" fill="#00BE67" fill-opacity="0.75"/>
<rect x="202.75" y="27.26" width="2.80" height="2.80" fill="#00BE67" fill-opacity="0.75"/>
<rect x="204.11" y="29.13" width="2.80" height="2.80" fill="#00BE67" fill-opacity="0.75"/>
<rect x="203.52" y="25.23" width="2.80" height="2.80" fill="#00BE67" fill-opacity="0.75"/>
<rect x="203.77" y="25.22" width="2.80" height="2.80" fill="#00BE67" fill-opacity="0.75"/>
<rect x="203.12" y="28.71" width="2.80" height="2.80" fill="#00BE67" fill-opacity="0.75"/>
<rect x="203.12" y="28.15" width="2.80" height="2.80" fill="#00BE67" fill-opacity="0.75"/>
<rect x="204.61" y="28.13" width="2.80" height="2.80" fill="#00BE67" fill-opacity="0.75"/>
<rect x="203.61" y="26.22" width="2.80" height="2.80" fill="#00BE67" fill-opacity="0.75"/>
<rect x="204.19" y="27.63" width="2.80" height="2.80" fill="#00BE67" fill-opacity="0.75"/>
<rect x="203.37" y="27.07" width="2.80" height="2.80" fill="#00BE67" fill-opacity="0.75"/>
<rect x="204.34" y="27.04" width="2.80" height="2.80" fill="#00BE67" fill-opacity="0.75"/>
<rect x="204.82" y="27.04" width="2.80" height="2.80" fill="#00BE67" fill-opacity="0.75"/>
<rect x="204.18" y="27.77" width="2.80" height="2.80" fill="#00BE67" fill-opacity="0.75"/>
<rect x="203.20" y="27.21" width="2.80" height="2.80" fill="#00BE67" fill-opacity="0.75"/>
<rect x="202.57" y="27.81" width="2.80" height="2.80" fill="#00BE67" fill-opacity="0.75"/>
<rect x="203.05" y="27.73" width="2.80" height="2.80" fill="#00BE67" fill-opacity="0.75"/>
<rect x="203.13" y="25.66" width="2.80" height="2.80" fill="#00BE67" fill-opacity="0.75"/>
<rect x="204.24" y="25.64" width="2.80" height="2.80" fill="#00BE67" fill-opacity="0.75"/>
<rect x="204.37" y="28.44" width="2.80" height="2.80" fill="#00BE67" fill-opacity="0.75"/>
<rect x="203.28" y="29.14" width="2.80" height="2.80" fill="#00BE67" fill-opacity="0.75"/>
<rect x="202.92" y="28.39" width="2.80" height="2.80" fill="#00BE67" fill-opacity="0.75"/>
<rect x="203.95" y="28.99" width="2.80" height="2.80" fill="#00BE67" fill-opacity="0.75"/>
<rect x="203.62" y="28.29" width="2.80" height="2.80" fill="#00BE67" fill-opacity="0.75"/>
<rect x="203.98" y="26.63" width="2.80" height="2.80" fill="#00BE67" fill-opacity="0.75"/>
<rect x="203.14" y="28.68" width="2.80" height="2.80" fill="#00BE67" fill-opacity="0.75"/>
<rect x="204.42" y="27.13" width="2.80" height="2.80" fill="#00BE67" fill-opacity="0.75"/>
<rect x="203.71" y="28.76" width="2.80" height="2.80" fill="#00BE67" fill-opacity="0.75"/>
<rect x="202.93" y="25.58" width="2.80" height="2.80" fill="#00BE67" fill-opacity="0.75"/>
<rect x="204.64" y="28.51" width="2.80" height="2.80" fill="#00BE67" fill-opacity="0.75"/>
<rect x="203.98" y="25.82" width="2.80" height="2.80" fill="#00BE67" fill-opacity="0.75"/>
<rect x="204.62" y="26.17" width="2.80" height="2.80" fill="#00BE67" fill-opacity="0.75"/>
<rect x="203.53" y="27.63" width="2.80" height="2.80" fill="#00BE67" fill-opacity="0.75"/>
<rect x="203.77" y="27.91" width="2.80" height="2.80" fill="#00BE67" fill-opacity="0.75"/>
<rect x="202.49" y="26.12" width="2.80" height="2.80" fill="#00BE67" fill-opacity="0.75"/>
<rect x="202.73" y="28.73" width="2.80" height="2.80" fill="#00BE67" fill-opacity="0.75"/>
<rect x="202.45" y="27.84" width="2.80" height="2.80" fill="#00BE67" fill-opacity="0.75"/>
<rect x="203.72" y="26.10" width="2.80" height="2.80" fill="#00BE67" fill-opacity="0.75"/>
<rect x="204.60" y="28.52" width="2.80" height="2.80" fill="#00BE67" fill-opacity="0.75"/>
<rect x="202.87" y="26.04" width="2.80" height="2.80" fill="#00BE67" fill-opacity="0.75"/>
<rect x="203.19" y="27.95" width="2.80" height="2.80" fill="#00BE67" fill-opacity="0.75"/>
<rect x="203.74" y="27.99" width="2.80" height="2.80" fill="#00BE67" fill-opacity="0.75"/>
<rect x="203.07" y="26.55" width="2.80" height="2.80" fill="#00BE67" fill-opacity="0.75"/>
<rect x="203.90" y="28.90" width="2.80" height="2.80" fill="#00BE67" fill-opacity="0.75"/>
<rect x="203.54" y="27.41" width="2.80" height="2.80" fill="#00BE67" fill-opacity="0.75"/>
<rect x="204.02" y="28.86" width="2.80" height="2.80" fill="#00BE67" fill-opacity="0.75"/>
<rect x="203.81" y="28.38" width="2.80" height="2.80" fill="#00BE67" fill-opacity="0.75"/>
<rect x="202.49" y="26.62" width="2.80" height="2.80" fill="#00BE67" fill-opacity="0.75"/>
<circle cx="174.51" cy="167.02" r="1.40" fill="#00BFC4" fill-opacity="0.75"/>
<circle cx="177.05" cy="163.17" r="1.40" fill="#00BFC4" fill-opacity="0.75"/>
<circle cx="172.10" cy="168.24" r="1.40" fill="#00BFC4" fill-opacity="0.75"/>
<circle cx="173.60" cy="170.41" r="1.40" fill="#00BFC4" fill-opacity="0.75"/>
<circle cx="173.65" cy="167.16" r="1.40" fill="#00BFC4" fill-opacity="0.75"/>
<circle cx="174.11" cy="165.90" r="1.40" fill="#00BFC4" fill-opacity="0.75"/>
<circle cx="179.39" cy="170.77" r="1.40" fill="#00BFC4" fill-opacity="0.75"/>
<circle cx="177.97" cy="164.11" r="1.40" fill="#00BFC4" fill-opacity="0.75"/>
<circle cx="174.81" cy="169.29" r="1.40" fill="#00BFC4" fill-opacity="0.75"/>
<circle cx="174.62" cy="169.82" r="1.40" fill="#00BFC4" fill-opacity="0.75"/>
<circle cx="177.06" cy="170.04" r="1.40" fill="#00BFC4" fill-opacity="0.75"/>
<circle cx="174.26" cy="166.64" r="1.40" fill="#00BFC4" fill-opacity="0.75"/>
<circle cx="175.82" cy="170.17" r="1.40" fill="#00BFC4" fill-opacity="0.75"/>
<circle cx="178.77" cy="170.52" r="1.40" fill="#00BFC4" fill-opacity="0.75"/>
<circle cx="180.21" cy="170.59" r="1.40" fill="#00BFC4" fill-opacity="0.75"/>
<circle cx="179.80" cy="167.61" r="1.40" fill="#00BFC4" fill-opacity="0.75"/>
<circle cx="178.57" cy="164.27" r="1.40" fill="#00BFC4" fill-opacity="0.75"/>
<circle cx="174.61" cy="169.51" r="1.40" fill="#00BFC4" fill-opacity="0.75"/>
<circle cx="175.79" cy="165.62" r="1.40" fill="#00BFC4" fill-opacity="0.75"/>
<circle cx="177.94" cy="169.94" r="1.40" fill="#00BFC4" fill-opacity="0.75"/>
<circle cx="176.64" cy="167.02" r="1.40" fill="#00BFC4" fill-opacity="0.75"/>
<circle cx="176.92" cy="164.97" r="1.40" fill="#00BFC4" fill-opacity="0.75"/>
<circle cx="174.77" cy="167.29" r="1.40" fill="#00BFC4" fill-opacity="0.75"/>
<circle cx="174.83" cy="167.93" r="1.40" fill="#00BFC4" fill-opacity="0.75"/>
<circle cx="175.05" cy="166.08" r="1.40" fill="#00BFC4" fill-opacity="0.75"/>
<circle cx="175.49" cy="164.38" r="1.40" fill="#00BFC4" fill-opacity="0.75"/>
<circle cx="178.34" cy="168.95" r="1.40" fill="#00BFC4" fill-opacity="0.75"/>
<circle cx="177.02" cy="163.09" r="1.40" fill="#00BFC4" fill-opacity="0.75"/>
<circle cx="178.03" cy="168.93" r="1.40" fill="#00BFC4" fill-opacity="0.75"/>
<circle cx="175.64" cy="165.57" r="1.40" fill="#00BFC4" fill-opacity="0.75"/>
<circle cx="179.31" cy="170.77" r="1.40" fill="#00BFC4" fill-opacity="0.75"/>
<circle cx="178.01" cy="169.25" r="1.40" fill="#00BFC4" fill-opacity="0.75"/>
<circle cx="175.52" cy="170.44" r="1.40" fill="#00BFC4" fill-opacity="0.75"/>
<circle cx="178.60" cy="170.22" r="1.40" fill="#00BFC4" fill-opacity="0.75"/>
<circle cx="178.26" cy="163.73" r="1.40" fill="#00BFC4" fill-opacity="0.75"/>
<circle cx="175.62" cy="170.13" r="1.40" fill="#00BFC4" fill-opacity="0.75"/>
<circle cx="175.66" cy="165.08" r="1.40" fill="#00BFC4" fill-opacity="0.75"/>
<circle cx="177.47" cy="169.92" r="1.40" fill="#00BFC4" fill-opacity="0.75"/>
<circle cx="172.15" cy="168.99" r="1.40" fill="#00BFC4" fill-opacity="0.75"/>
<circle cx="177.02" cy="165.42" r="1.40" fill="#00BFC4" fill-opacity="0.75"/>
<circle cx="179.48" cy="167.06" r="1.40" fill="#00BFC4" fill-opacity="0.75"/>
<circle cx="176.43" cy="169.81" r="1.40" fill="#00BFC4" fill-opacity="0.75"/>
<circle cx="176.95" cy="165.71" r="1.40" fill="#00BFC4" fill-opacity="0.75"/>
<circle cx="178.70" cy="164.62" r="1.40" fill="#00BFC4" fill-opacity="0.75"/>
<circle cx="174.15" cy="168.82" r="1.40" fill="#00BFC4" fill-opacity="0.75"/>
<rect x="215.6" y="9.8" width="38.0" height="69.2" fill="#fff" stroke="#333" stroke-width="0.8"/>
<text x="233.90" y="16.10" font-size="6.2" text-anchor="middle" fill="#1E1EA0" font-weight="bold" >Breed</text>
<rect x="221.50" y="21.40" width="3.00" height="3.00" fill="#F8766D" fill-opacity="0.5"/>
<text x="228.60" y="24.70" font-size="5.0" text-anchor="start" fill="#111" font-weight="bold" >Duroc</text>
<rect x="221.50" y="28.70" width="3.00" height="3.00" fill="#CD9600" fill-opacity="0.6"/>
<text x="228.60" y="32.00" font-size="5.0" text-anchor="start" fill="#111" font-weight="bold" >FJ</text>
<rect x="221.7" y="36.20" width="2.6" height="2.6" fill="#e4efcc" stroke="#a9cf72" stroke-width="0.7"/>
<text x="228.60" y="39.30" font-size="5.0" text-anchor="start" fill="#111" font-weight="bold" >Landrace</text>
<rect x="221.50" y="43.30" width="3.00" height="3.00" fill="#00BE67" fill-opacity="1"/>
<text x="228.60" y="46.60" font-size="5.0" text-anchor="start" fill="#111" font-weight="bold" >MMS</text>
<circle cx="223.00" cy="52.10" r="1.50" fill="#00BFC4" fill-opacity="1"/>
<text x="228.60" y="53.90" font-size="5.0" text-anchor="start" fill="#111" font-weight="bold" >PD</text>
<path d="M223.00 57.39L224.93 61.01L221.07 61.01Z" fill="#00A9FF" fill-opacity="1"/>
<text x="228.60" y="61.20" font-size="5.0" text-anchor="start" fill="#111" font-weight="bold" >SHW</text>
<path d="M223.00 65.20L224.50 66.70L223.00 68.20L221.50 66.70Z" fill="#C77CFF" fill-opacity="0.8"/>
<text x="228.60" y="68.50" font-size="5.0" text-anchor="start" fill="#111" font-weight="bold" >SW</text>
<circle cx="223.00" cy="74.00" r="1.50" fill="#FF61CC" fill-opacity="1"/>
<text x="228.60" y="75.80" font-size="5.0" text-anchor="start" fill="#111" font-weight="bold" >Yorkshire</text>
<text x="279.00" y="15.90" font-size="15.2" text-anchor="start" fill="#000" font-weight="bold" >B</text>
<line x1="327.0" y1="15.0" x2="327.0" y2="156.9" stroke="#000" stroke-width="1.5"/>
<line x1="321.2" y1="155.9" x2="535.5" y2="155.9" stroke="#000" stroke-width="1.5"/>
<line x1="321.2" y1="15.8" x2="327" y2="15.8" stroke="#000" stroke-width="1.5"/>
<text x="319.60" y="18.70" font-size="9.3" text-anchor="end" fill="#000" font-weight="bold" >0.55</text>
<line x1="321.2" y1="62.8" x2="327" y2="62.8" stroke="#000" stroke-width="1.5"/>
<text x="319.60" y="65.70" font-size="9.3" text-anchor="end" fill="#000" font-weight="bold" >0.50</text>
<line x1="321.2" y1="109.5" x2="327" y2="109.5" stroke="#000" stroke-width="1.5"/>
<text x="319.60" y="112.40" font-size="9.3" text-anchor="end" fill="#000" font-weight="bold" >0.45</text>
<line x1="321.2" y1="156.2" x2="327" y2="156.2" stroke="#000" stroke-width="1.5"/>
<text x="319.60" y="159.10" font-size="9.3" text-anchor="end" fill="#000" font-weight="bold" >0.40</text>
<line x1="327.10" y1="156" x2="327.10" y2="161.8" stroke="#000" stroke-width="1.5"/>
<text transform="translate(329.10,170.0) rotate(-45)" font-size="8.2" font-weight="bold" text-anchor="end" fill="#000">K=1</text>
<line x1="350.18" y1="156" x2="350.18" y2="161.8" stroke="#000" stroke-width="1.5"/>
<text transform="translate(352.18,170.0) rotate(-45)" font-size="8.2" font-weight="bold" text-anchor="end" fill="#000">K=2</text>
<line x1="373.26" y1="156" x2="373.26" y2="161.8" stroke="#000" stroke-width="1.5"/>
<text transform="translate(375.26,170.0) rotate(-45)" font-size="8.2" font-weight="bold" text-anchor="end" fill="#000">K=3</text>
<line x1="396.34" y1="156" x2="396.34" y2="161.8" stroke="#000" stroke-width="1.5"/>
<text transform="translate(398.34,170.0) rotate(-45)" font-size="8.2" font-weight="bold" text-anchor="end" fill="#000">K=4</text>
<line x1="419.42" y1="156" x2="419.42" y2="161.8" stroke="#000" stroke-width="1.5"/>
<text transform="translate(421.42,170.0) rotate(-45)" font-size="8.2" font-weight="bold" text-anchor="end" fill="#000">K=5</text>
<line x1="442.50" y1="156" x2="442.50" y2="161.8" stroke="#000" stroke-width="1.5"/>
<text transform="translate(444.50,170.0) rotate(-45)" font-size="8.2" font-weight="bold" text-anchor="end" fill="#000">K=6</text>
<line x1="465.58" y1="156" x2="465.58" y2="161.8" stroke="#000" stroke-width="1.5"/>
<text transform="translate(467.58,170.0) rotate(-45)" font-size="8.2" font-weight="bold" text-anchor="end" fill="#000">K=7</text>
<line x1="488.66" y1="156" x2="488.66" y2="161.8" stroke="#000" stroke-width="1.5"/>
<text transform="translate(490.66,170.0) rotate(-45)" font-size="8.2" font-weight="bold" text-anchor="end" fill="#000">K=8</text>
<line x1="511.74" y1="156" x2="511.74" y2="161.8" stroke="#000" stroke-width="1.5"/>
<text transform="translate(513.74,170.0) rotate(-45)" font-size="8.2" font-weight="bold" text-anchor="end" fill="#000">K=9</text>
<line x1="534.82" y1="156" x2="534.82" y2="161.8" stroke="#000" stroke-width="1.5"/>
<text transform="translate(536.82,170.0) rotate(-45)" font-size="8.2" font-weight="bold" text-anchor="end" fill="#000">K=10</text>
<text x="431.00" y="197.20" font-size="10.0" text-anchor="middle" fill="#000" font-weight="bold" >Populations</text>
<text transform="translate(294.3,86.8) rotate(-90)" font-size="10" font-weight="bold" text-anchor="middle" fill="#000">Cross Validation Error</text>
<line x1="356.62" y1="35.27" x2="367.28" y2="44.33" stroke="#0B0B80" stroke-width="2.1"/>
<line x1="378.82" y1="56.15" x2="391.18" y2="71.45" stroke="#0B0B80" stroke-width="2.1"/>
<line x1="402.54" y1="83.48" x2="413.16" y2="93.12" stroke="#0B0B80" stroke-width="2.1"/>
<line x1="426.50" y1="102.83" x2="435.30" y2="107.87" stroke="#0B0B80" stroke-width="2.1"/>
<line x1="449.83" y1="115.89" x2="458.17" y2="120.31" stroke="#0B0B80" stroke-width="2.1"/>
<line x1="473.76" y1="124.98" x2="480.54" y2="125.62" stroke="#0B0B80" stroke-width="2.1"/>
<line x1="496.99" y1="125.05" x2="503.61" y2="123.95" stroke="#0B0B80" stroke-width="2.1"/>
<line x1="520.06" y1="121.82" x2="526.74" y2="121.18" stroke="#0B0B80" stroke-width="2.1"/>
<circle cx="350.3" cy="29.9" r="2.9" fill="#0B0B80"/>
<circle cx="373.6" cy="49.7" r="2.9" fill="#0B0B80"/>
<circle cx="396.4" cy="77.9" r="2.9" fill="#0B0B80"/>
<circle cx="419.3" cy="98.7" r="2.9" fill="#0B0B80"/>
<circle cx="442.5" cy="112.0" r="2.9" fill="#0B0B80"/>
<circle cx="465.5" cy="124.2" r="2.9" fill="#0B0B80"/>
<circle cx="488.8" cy="126.4" r="2.9" fill="#B00010"/>
<circle cx="511.8" cy="122.6" r="2.9" fill="#0B0B80"/>
<circle cx="535.0" cy="120.4" r="2.9" fill="#0B0B80"/>
<text x="4.10" y="215.60" font-size="15.2" text-anchor="start" fill="#000" font-weight="bold" >C</text>
<rect x="46.25" y="214.75" width="3.5" height="3.5" fill="#AA0C14"/>
<text x="60.00" y="219.20" font-size="7.2" text-anchor="start" fill="#111" font-weight="bold" >Duroc</text>
<rect x="96.25" y="214.75" width="3.5" height="3.5" fill="#539FF5"/>
<text x="110.00" y="219.20" font-size="7.2" text-anchor="start" fill="#111" font-weight="bold" >Landrace</text>
<rect x="153.05" y="214.75" width="3.5" height="3.5" fill="#FFFF00"/>
<text x="166.80" y="219.20" font-size="7.2" text-anchor="start" fill="#111" font-weight="bold" >Yorkshire</text>
<rect x="222.35" y="214.75" width="3.5" height="3.5" fill="#747474"/>
<text x="236.10" y="219.20" font-size="7.2" text-anchor="start" fill="#111" font-weight="bold" >MMS</text>
<rect x="289.35" y="214.75" width="3.5" height="3.5" fill="#12128A"/>
<text x="303.10" y="219.20" font-size="7.2" text-anchor="start" fill="#111" font-weight="bold" >FJ</text>
<rect x="356.25" y="214.75" width="3.5" height="3.5" fill="#1F8FAA"/>
<text x="370.00" y="219.20" font-size="7.2" text-anchor="start" fill="#111" font-weight="bold" >SW</text>
<rect x="427.35" y="214.75" width="3.5" height="3.5" fill="#F7BA84"/>
<text x="441.10" y="219.20" font-size="7.2" text-anchor="start" fill="#111" font-weight="bold" >PD</text>
<rect x="492.25" y="214.75" width="3.5" height="3.5" fill="#068306"/>
<text x="506.00" y="219.20" font-size="7.2" text-anchor="start" fill="#111" font-weight="bold" >SHW</text>
<line x1="32.7" y1="224.6" x2="32.7" y2="280.5" stroke="#000" stroke-width="1.1"/>
<line x1="27.6" y1="225.10" x2="32.7" y2="225.10" stroke="#000" stroke-width="1.1"/>
<text x="26.80" y="227.55" font-size="6.7" text-anchor="end" fill="#000" font-weight="bold" >1.0</text>
<line x1="27.6" y1="236.10" x2="32.7" y2="236.10" stroke="#000" stroke-width="1.1"/>
<text x="26.80" y="238.55" font-size="6.7" text-anchor="end" fill="#000" font-weight="bold" >0.8</text>
<line x1="27.6" y1="247.10" x2="32.7" y2="247.10" stroke="#000" stroke-width="1.1"/>
<text x="26.80" y="249.55" font-size="6.7" text-anchor="end" fill="#000" font-weight="bold" >0.6</text>
<line x1="27.6" y1="258.10" x2="32.7" y2="258.10" stroke="#000" stroke-width="1.1"/>
<text x="26.80" y="260.55" font-size="6.7" text-anchor="end" fill="#000" font-weight="bold" >0.4</text>
<line x1="27.6" y1="269.10" x2="32.7" y2="269.10" stroke="#000" stroke-width="1.1"/>
<text x="26.80" y="271.55" font-size="6.7" text-anchor="end" fill="#000" font-weight="bold" >0.2</text>
<line x1="27.6" y1="280.10" x2="32.7" y2="280.10" stroke="#000" stroke-width="1.1"/>
<text x="26.80" y="282.55" font-size="6.7" text-anchor="end" fill="#000" font-weight="bold" >0.0</text>
<text transform="translate(13.4,252.3) rotate(-90)" font-size="7.5" font-weight="bold" text-anchor="middle" fill="#000">Composition</text>
<rect x="33.05" y="224.80" width="1.75" height="55.00" fill="#AA0C14"/>
<rect x="35.35" y="224.80" width="1.75" height="55.00" fill="#AA0C14"/>
<rect x="37.64" y="224.80" width="1.75" height="55.00" fill="#AA0C14"/>
<rect x="39.94" y="224.80" width="1.75" height="55.00" fill="#AA0C14"/>
<rect x="42.24" y="224.80" width="1.75" height="55.00" fill="#AA0C14"/>
<rect x="44.54" y="224.80" width="1.75" height="55.00" fill="#AA0C14"/>
<rect x="46.83" y="224.80" width="1.75" height="55.00" fill="#AA0C14"/>
<rect x="49.13" y="224.80" width="1.75" height="55.00" fill="#AA0C14"/>
<rect x="51.43" y="224.80" width="1.75" height="55.00" fill="#AA0C14"/>
<rect x="53.72" y="224.80" width="1.75" height="55.00" fill="#AA0C14"/>
<rect x="56.02" y="224.80" width="1.75" height="55.00" fill="#AA0C14"/>
<rect x="58.32" y="224.80" width="1.75" height="55.00" fill="#AA0C14"/>
<rect x="60.62" y="224.80" width="1.75" height="55.00" fill="#AA0C14"/>
<rect x="62.91" y="224.80" width="1.75" height="55.00" fill="#AA0C14"/>
<rect x="65.21" y="224.80" width="1.75" height="55.00" fill="#AA0C14"/>
<rect x="67.51" y="224.80" width="1.75" height="55.00" fill="#AA0C14"/>
<rect x="69.80" y="224.80" width="1.75" height="55.00" fill="#AA0C14"/>
<rect x="72.10" y="224.80" width="1.75" height="55.00" fill="#AA0C14"/>
<rect x="74.40" y="224.80" width="1.75" height="55.00" fill="#AA0C14"/>
<rect x="76.69" y="224.80" width="1.75" height="55.00" fill="#AA0C14"/>
<rect x="78.99" y="224.80" width="1.75" height="55.00" fill="#AA0C14"/>
<rect x="81.29" y="224.80" width="1.75" height="55.00" fill="#AA0C14"/>
<rect x="83.59" y="224.80" width="1.75" height="55.00" fill="#AA0C14"/>
<rect x="85.88" y="224.80" width="1.75" height="55.00" fill="#AA0C14"/>
<rect x="88.18" y="224.80" width="1.75" height="55.00" fill="#AA0C14"/>
<rect x="90.48" y="224.80" width="1.75" height="55.00" fill="#AA0C14"/>
<rect x="92.77" y="224.80" width="1.75" height="55.00" fill="#AA0C14"/>
<rect x="95.07" y="224.80" width="1.75" height="55.00" fill="#AA0C14"/>
<rect x="97.37" y="224.80" width="1.75" height="55.00" fill="#AA0C14"/>
<rect x="99.67" y="224.80" width="1.75" height="55.00" fill="#AA0C14"/>
<rect x="101.96" y="229.20" width="1.75" height="50.60" fill="#539FF5"/>
<rect x="101.96" y="224.80" width="1.75" height="4.40" fill="#FFFF00"/>
<rect x="104.26" y="224.80" width="1.75" height="55.00" fill="#539FF5"/>
<rect x="106.56" y="224.80" width="1.75" height="55.00" fill="#539FF5"/>
<rect x="108.85" y="224.80" width="1.75" height="55.00" fill="#539FF5"/>
<rect x="111.15" y="224.80" width="1.75" height="55.00" fill="#539FF5"/>
<rect x="113.45" y="224.80" width="1.75" height="55.00" fill="#FFFF00"/>
<rect x="115.75" y="224.80" width="1.75" height="55.00" fill="#FFFF00"/>
<rect x="118.04" y="224.80" width="1.75" height="55.00" fill="#FFFF00"/>
<rect x="120.34" y="224.80" width="1.75" height="55.00" fill="#FFFF00"/>
<rect x="122.64" y="224.80" width="1.75" height="55.00" fill="#539FF5"/>
<rect x="124.93" y="274.85" width="1.75" height="4.95" fill="#AA0C14"/>
<rect x="124.93" y="249.55" width="1.75" height="25.30" fill="#539FF5"/>
<rect x="124.93" y="228.65" width="1.75" height="20.90" fill="#FFFF00"/>
<rect x="124.93" y="227.55" width="1.75" height="1.10" fill="#F7BA84"/>
<rect x="124.93" y="224.80" width="1.75" height="2.75" fill="#068306"/>
<rect x="127.23" y="224.80" width="1.75" height="55.00" fill="#539FF5"/>
<rect x="129.53" y="277.05" width="1.75" height="2.75" fill="#AA0C14"/>
<rect x="129.53" y="230.85" width="1.75" height="46.20" fill="#539FF5"/>
<rect x="129.53" y="224.80" width="1.75" height="6.05" fill="#FFFF00"/>
<rect x="131.82" y="227.00" width="1.75" height="52.80" fill="#539FF5"/>
<rect x="131.82" y="224.80" width="1.75" height="2.20" fill="#068306"/>
<rect x="134.12" y="230.85" width="1.75" height="48.95" fill="#539FF5"/>
<rect x="134.12" y="224.80" width="1.75" height="6.05" fill="#FFFF00"/>
<rect x="136.42" y="224.80" width="1.75" height="55.00" fill="#539FF5"/>
<rect x="138.72" y="224.80" width="1.75" height="55.00" fill="#539FF5"/>
<rect x="141.01" y="224.80" width="1.75" height="55.00" fill="#539FF5"/>
<rect x="143.31" y="224.80" width="1.75" height="55.00" fill="#539FF5"/>
<rect x="145.61" y="224.80" width="1.75" height="55.00" fill="#539FF5"/>
<rect x="147.90" y="275.40" width="1.75" height="4.40" fill="#539FF5"/>
<rect x="147.90" y="228.65" width="1.75" height="46.75" fill="#FFFF00"/>
<rect x="147.90" y="224.80" width="1.75" height="3.85" fill="#068306"/>
<rect x="150.20" y="224.80" width="1.75" height="55.00" fill="#FFFF00"/>
<rect x="152.50" y="224.80" width="1.75" height="55.00" fill="#FFFF00"/>
<rect x="154.80" y="224.80" width="1.75" height="55.00" fill="#FFFF00"/>
<rect x="157.09" y="224.80" width="1.75" height="55.00" fill="#FFFF00"/>
<rect x="159.39" y="224.80" width="1.75" height="55.00" fill="#FFFF00"/>
<rect x="161.69" y="224.80" width="1.75" height="55.00" fill="#FFFF00"/>
<rect x="163.98" y="224.80" width="1.75" height="55.00" fill="#FFFF00"/>
<rect x="166.28" y="224.80" width="1.75" height="55.00" fill="#FFFF00"/>
<rect x="168.58" y="278.70" width="1.75" height="1.10" fill="#AA0C14"/>
<rect x="168.58" y="260.00" width="1.75" height="18.70" fill="#539FF5"/>
<rect x="168.58" y="224.80" width="1.75" height="35.20" fill="#FFFF00"/>
<rect x="170.88" y="273.20" width="1.75" height="6.60" fill="#539FF5"/>
<rect x="170.88" y="224.80" width="1.75" height="48.40" fill="#FFFF00"/>
<rect x="173.17" y="226.18" width="1.75" height="53.62" fill="#FFFF00"/>
<rect x="173.17" y="224.80" width="1.75" height="1.38" fill="#068306"/>
<rect x="175.47" y="224.80" width="1.75" height="55.00" fill="#FFFF00"/>
<rect x="177.77" y="224.80" width="1.75" height="55.00" fill="#FFFF00"/>
<rect x="180.06" y="277.05" width="1.75" height="2.75" fill="#539FF5"/>
<rect x="180.06" y="224.80" width="1.75" height="52.25" fill="#FFFF00"/>
<rect x="182.36" y="224.80" width="1.75" height="55.00" fill="#FFFF00"/>
<rect x="184.66" y="224.80" width="1.75" height="55.00" fill="#FFFF00"/>
<rect x="186.95" y="224.80" width="1.75" height="55.00" fill="#FFFF00"/>
<rect x="189.25" y="224.80" width="1.75" height="55.00" fill="#FFFF00"/>
<rect x="191.55" y="224.80" width="1.75" height="55.00" fill="#FFFF00"/>
<rect x="193.85" y="224.80" width="1.75" height="55.00" fill="#FFFF00"/>
<rect x="196.14" y="224.80" width="1.75" height="55.00" fill="#FFFF00"/>
<rect x="198.44" y="224.80" width="1.75" height="55.00" fill="#FFFF00"/>
<rect x="200.74" y="224.80" width="1.75" height="55.00" fill="#6A6A8E"/>
<rect x="203.03" y="224.80" width="1.75" height="55.00" fill="#747474"/>
<rect x="205.33" y="224.80" width="1.75" height="55.00" fill="#747474"/>
<rect x="207.63" y="224.80" width="1.75" height="55.00" fill="#747474"/>
<rect x="209.93" y="224.80" width="1.75" height="55.00" fill="#747474"/>
<rect x="212.22" y="224.80" width="1.75" height="55.00" fill="#747474"/>
<rect x="214.52" y="224.80" width="1.75" height="55.00" fill="#747474"/>
<rect x="216.82" y="224.80" width="1.75" height="55.00" fill="#747474"/>
<rect x="219.11" y="269.35" width="1.75" height="10.45" fill="#539FF5"/>
<rect x="219.11" y="235.80" width="1.75" height="33.55" fill="#747474"/>
<rect x="219.11" y="234.70" width="1.75" height="1.10" fill="#12128A"/>
<rect x="219.11" y="224.80" width="1.75" height="9.90" fill="#068306"/>
<rect x="221.41" y="224.80" width="1.75" height="55.00" fill="#747474"/>
<rect x="223.71" y="224.80" width="1.75" height="55.00" fill="#747474"/>
<rect x="226.01" y="224.80" width="1.75" height="55.00" fill="#747474"/>
<rect x="228.30" y="224.80" width="1.75" height="55.00" fill="#747474"/>
<rect x="230.60" y="224.80" width="1.75" height="55.00" fill="#747474"/>
<rect x="232.90" y="224.80" width="1.75" height="55.00" fill="#747474"/>
<rect x="235.19" y="224.80" width="1.75" height="55.00" fill="#747474"/>
<rect x="237.49" y="224.80" width="1.75" height="55.00" fill="#747474"/>
<rect x="239.79" y="224.80" width="1.75" height="55.00" fill="#747474"/>
<rect x="242.08" y="224.80" width="1.75" height="55.00" fill="#747474"/>
<rect x="244.38" y="224.80" width="1.75" height="55.00" fill="#747474"/>
<rect x="246.68" y="224.80" width="1.75" height="55.00" fill="#747474"/>
<rect x="248.98" y="224.80" width="1.75" height="55.00" fill="#747474"/>
<rect x="251.27" y="224.80" width="1.75" height="55.00" fill="#747474"/>
<rect x="253.57" y="224.80" width="1.75" height="55.00" fill="#747474"/>
<rect x="255.87" y="224.80" width="1.75" height="55.00" fill="#747474"/>
<rect x="258.16" y="224.80" width="1.75" height="55.00" fill="#747474"/>
<rect x="260.46" y="224.80" width="1.75" height="55.00" fill="#747474"/>
<rect x="262.76" y="224.80" width="1.75" height="55.00" fill="#747474"/>
<rect x="265.06" y="224.80" width="1.75" height="55.00" fill="#747474"/>
<rect x="267.35" y="224.80" width="1.75" height="55.00" fill="#12128A"/>
<rect x="269.65" y="224.80" width="1.75" height="55.00" fill="#12128A"/>
<rect x="271.95" y="224.80" width="1.75" height="55.00" fill="#12128A"/>
<rect x="274.24" y="224.80" width="1.75" height="55.00" fill="#12128A"/>
<rect x="276.54" y="224.80" width="1.75" height="55.00" fill="#12128A"/>
<rect x="278.84" y="224.80" width="1.75" height="55.00" fill="#12128A"/>
<rect x="281.14" y="224.80" width="1.75" height="55.00" fill="#12128A"/>
<rect x="283.43" y="224.80" width="1.75" height="55.00" fill="#12128A"/>
<rect x="285.73" y="224.80" width="1.75" height="55.00" fill="#12128A"/>
<rect x="288.03" y="224.80" width="1.75" height="55.00" fill="#12128A"/>
<rect x="290.32" y="224.80" width="1.75" height="55.00" fill="#12128A"/>
<rect x="292.62" y="224.80" width="1.75" height="55.00" fill="#12128A"/>
<rect x="294.92" y="224.80" width="1.75" height="55.00" fill="#12128A"/>
<rect x="297.21" y="224.80" width="1.75" height="55.00" fill="#12128A"/>
<rect x="299.51" y="224.80" width="1.75" height="55.00" fill="#12128A"/>
<rect x="301.81" y="224.80" width="1.75" height="55.00" fill="#12128A"/>
<rect x="304.11" y="224.80" width="1.75" height="55.00" fill="#12128A"/>
<rect x="306.40" y="224.80" width="1.75" height="55.00" fill="#12128A"/>
<rect x="308.70" y="224.80" width="1.75" height="55.00" fill="#12128A"/>
<rect x="311.00" y="224.80" width="1.75" height="55.00" fill="#12128A"/>
<rect x="313.29" y="224.80" width="1.75" height="55.00" fill="#12128A"/>
<rect x="315.59" y="224.80" width="1.75" height="55.00" fill="#12128A"/>
<rect x="317.89" y="224.80" width="1.75" height="55.00" fill="#12128A"/>
<rect x="320.19" y="224.80" width="1.75" height="55.00" fill="#12128A"/>
<rect x="322.48" y="224.80" width="1.75" height="55.00" fill="#12128A"/>
<rect x="324.78" y="224.80" width="1.75" height="55.00" fill="#12128A"/>
<rect x="327.08" y="224.80" width="1.75" height="55.00" fill="#12128A"/>
<rect x="329.37" y="224.80" width="1.75" height="55.00" fill="#12128A"/>
<rect x="331.67" y="224.80" width="1.75" height="55.00" fill="#12128A"/>
<rect x="333.97" y="224.80" width="1.75" height="55.00" fill="#12128A"/>
<rect x="336.27" y="224.80" width="1.75" height="55.00" fill="#1F8FAA"/>
<rect x="338.56" y="224.80" width="1.75" height="55.00" fill="#1F8FAA"/>
<rect x="340.86" y="225.90" width="1.75" height="53.90" fill="#1F8FAA"/>
<rect x="340.86" y="224.80" width="1.75" height="1.10" fill="#B07050"/>
<rect x="343.16" y="225.90" width="1.75" height="53.90" fill="#1F8FAA"/>
<rect x="343.16" y="224.80" width="1.75" height="1.10" fill="#B07050"/>
<rect x="345.45" y="224.80" width="1.75" height="55.00" fill="#1F8FAA"/>
<rect x="347.75" y="224.80" width="1.75" height="55.00" fill="#1F8FAA"/>
<rect x="350.05" y="224.80" width="1.75" height="55.00" fill="#1F8FAA"/>
<rect x="352.34" y="224.80" width="1.75" height="55.00" fill="#1F8FAA"/>
<rect x="354.64" y="224.80" width="1.75" height="55.00" fill="#1F8FAA"/>
<rect x="356.94" y="224.80" width="1.75" height="55.00" fill="#1F8FAA"/>
<rect x="359.24" y="224.80" width="1.75" height="55.00" fill="#1F8FAA"/>
<rect x="361.53" y="224.80" width="1.75" height="55.00" fill="#1F8FAA"/>
<rect x="363.83" y="224.80" width="1.75" height="55.00" fill="#1F8FAA"/>
<rect x="366.13" y="224.80" width="1.75" height="55.00" fill="#1F8FAA"/>
<rect x="368.42" y="224.80" width="1.75" height="55.00" fill="#1F8FAA"/>
<rect x="370.72" y="224.80" width="1.75" height="55.00" fill="#1F8FAA"/>
<rect x="373.02" y="224.80" width="1.75" height="55.00" fill="#1F8FAA"/>
<rect x="375.32" y="224.80" width="1.75" height="55.00" fill="#1F8FAA"/>
<rect x="377.61" y="224.80" width="1.75" height="55.00" fill="#1F8FAA"/>
<rect x="379.91" y="224.80" width="1.75" height="55.00" fill="#1F8FAA"/>
<rect x="382.21" y="224.80" width="1.75" height="55.00" fill="#1F8FAA"/>
<rect x="384.50" y="224.80" width="1.75" height="55.00" fill="#1F8FAA"/>
<rect x="386.80" y="224.80" width="1.75" height="55.00" fill="#1F8FAA"/>
<rect x="389.10" y="224.80" width="1.75" height="55.00" fill="#1F8FAA"/>
<rect x="391.40" y="224.80" width="1.75" height="55.00" fill="#1F8FAA"/>
<rect x="393.69" y="225.90" width="1.75" height="53.90" fill="#1F8FAA"/>
<rect x="393.69" y="224.80" width="1.75" height="1.10" fill="#A07050"/>
<rect x="395.99" y="224.80" width="1.75" height="55.00" fill="#1F8FAA"/>
<rect x="398.29" y="224.80" width="1.75" height="55.00" fill="#1F8FAA"/>
<rect x="400.58" y="224.80" width="1.75" height="55.00" fill="#1F8FAA"/>
<rect x="402.88" y="224.80" width="1.75" height="55.00" fill="#1F8FAA"/>
<rect x="405.18" y="224.80" width="1.75" height="55.00" fill="#1F8FAA"/>
<rect x="407.47" y="224.80" width="1.75" height="55.00" fill="#F7BA84"/>
<rect x="409.77" y="224.80" width="1.75" height="55.00" fill="#F7BA84"/>
<rect x="412.07" y="224.80" width="1.75" height="55.00" fill="#F7BA84"/>
<rect x="414.37" y="224.80" width="1.75" height="55.00" fill="#F7BA84"/>
<rect x="416.66" y="224.80" width="1.75" height="55.00" fill="#F7BA84"/>
<rect x="418.96" y="224.80" width="1.75" height="55.00" fill="#F7BA84"/>
<rect x="421.26" y="224.80" width="1.75" height="55.00" fill="#F7BA84"/>
<rect x="423.55" y="224.80" width="1.75" height="55.00" fill="#F7BA84"/>
<rect x="425.85" y="224.80" width="1.75" height="55.00" fill="#F7BA84"/>
<rect x="428.15" y="224.80" width="1.75" height="55.00" fill="#F7BA84"/>
<rect x="430.45" y="224.80" width="1.75" height="55.00" fill="#F7BA84"/>
<rect x="432.74" y="224.80" width="1.75" height="55.00" fill="#F7BA84"/>
<rect x="435.04" y="224.80" width="1.75" height="55.00" fill="#F7BA84"/>
<rect x="437.34" y="224.80" width="1.75" height="55.00" fill="#F7BA84"/>
<rect x="439.63" y="224.80" width="1.75" height="55.00" fill="#F7BA84"/>
<rect x="441.93" y="224.80" width="1.75" height="55.00" fill="#F7BA84"/>
<rect x="444.23" y="224.80" width="1.75" height="55.00" fill="#F7BA84"/>
<rect x="446.53" y="224.80" width="1.75" height="55.00" fill="#F7BA84"/>
<rect x="448.82" y="224.80" width="1.75" height="55.00" fill="#F7BA84"/>
<rect x="451.12" y="224.80" width="1.75" height="55.00" fill="#F7BA84"/>
<rect x="453.42" y="224.80" width="1.75" height="55.00" fill="#F7BA84"/>
<rect x="455.71" y="224.80" width="1.75" height="55.00" fill="#F7BA84"/>
<rect x="458.01" y="224.80" width="1.75" height="55.00" fill="#F7BA84"/>
<rect x="460.31" y="224.80" width="1.75" height="55.00" fill="#F7BA84"/>
<rect x="462.60" y="224.80" width="1.75" height="55.00" fill="#F7BA84"/>
<rect x="464.90" y="224.80" width="1.75" height="55.00" fill="#F7BA84"/>
<rect x="467.20" y="224.80" width="1.75" height="55.00" fill="#F7BA84"/>
<rect x="469.50" y="224.80" width="1.75" height="55.00" fill="#F7BA84"/>
<rect x="471.79" y="224.80" width="1.75" height="55.00" fill="#F7BA84"/>
<rect x="474.09" y="224.80" width="1.75" height="55.00" fill="#F7BA84"/>
<rect x="476.39" y="224.80" width="1.75" height="55.00" fill="#068306"/>
<rect x="478.68" y="224.80" width="1.75" height="55.00" fill="#068306"/>
<rect x="480.98" y="224.80" width="1.75" height="55.00" fill="#068306"/>
<rect x="483.28" y="224.80" width="1.75" height="55.00" fill="#068306"/>
<rect x="485.58" y="224.80" width="1.75" height="55.00" fill="#068306"/>
<rect x="487.87" y="224.80" width="1.75" height="55.00" fill="#068306"/>
<rect x="490.17" y="224.80" width="1.75" height="55.00" fill="#068306"/>
<rect x="492.47" y="224.80" width="1.75" height="55.00" fill="#068306"/>
<rect x="494.76" y="224.80" width="1.75" height="55.00" fill="#068306"/>
<rect x="497.06" y="224.80" width="1.75" height="55.00" fill="#068306"/>
<rect x="499.36" y="278.15" width="1.75" height="1.65" fill="#539FF5"/>
<rect x="499.36" y="224.80" width="1.75" height="53.35" fill="#068306"/>
<rect x="501.66" y="274.30" width="1.75" height="5.50" fill="#539FF5"/>
<rect x="501.66" y="224.80" width="1.75" height="49.50" fill="#068306"/>
<rect x="503.95" y="224.80" width="1.75" height="55.00" fill="#068306"/>
<rect x="506.25" y="274.85" width="1.75" height="4.95" fill="#539FF5"/>
<rect x="506.25" y="273.20" width="1.75" height="1.65" fill="#FFFF00"/>
<rect x="506.25" y="224.80" width="1.75" height="48.40" fill="#068306"/>
<rect x="508.55" y="224.80" width="1.75" height="55.00" fill="#068306"/>
<rect x="510.84" y="277.60" width="1.75" height="2.20" fill="#539FF5"/>
<rect x="510.84" y="224.80" width="1.75" height="52.80" fill="#068306"/>
<rect x="513.14" y="224.80" width="1.75" height="55.00" fill="#068306"/>
<rect x="515.44" y="275.95" width="1.75" height="3.85" fill="#539FF5"/>
<rect x="515.44" y="224.80" width="1.75" height="51.15" fill="#068306"/>
<rect x="517.73" y="224.80" width="1.75" height="55.00" fill="#068306"/>
<rect x="520.03" y="224.80" width="1.75" height="55.00" fill="#068306"/>
<rect x="522.33" y="268.80" width="1.75" height="11.00" fill="#539FF5"/>
<rect x="522.33" y="263.85" width="1.75" height="4.95" fill="#FFFF00"/>
<rect x="522.33" y="224.80" width="1.75" height="39.05" fill="#068306"/>
<rect x="524.63" y="224.80" width="1.75" height="55.00" fill="#068306"/>
<rect x="526.92" y="275.40" width="1.75" height="4.40" fill="#539FF5"/>
<rect x="526.92" y="224.80" width="1.75" height="50.60" fill="#068306"/>
<rect x="529.22" y="274.85" width="1.75" height="4.95" fill="#539FF5"/>
<rect x="529.22" y="272.10" width="1.75" height="2.75" fill="#FFFF00"/>
<rect x="529.22" y="224.80" width="1.75" height="47.30" fill="#068306"/>
<rect x="531.52" y="224.80" width="1.75" height="55.00" fill="#068306"/>
<rect x="533.81" y="255.60" width="1.75" height="24.20" fill="#539FF5"/>
<rect x="533.81" y="249.55" width="1.75" height="6.05" fill="#747474"/>
<rect x="533.81" y="224.80" width="1.75" height="24.75" fill="#068306"/>
<rect x="536.11" y="224.80" width="1.75" height="55.00" fill="#068306"/>
<rect x="538.41" y="254.50" width="1.75" height="25.30" fill="#539FF5"/>
<rect x="538.41" y="224.80" width="1.75" height="29.70" fill="#068306"/>
<rect x="540.71" y="224.80" width="1.75" height="55.00" fill="#068306"/>
<rect x="543.00" y="253.40" width="1.75" height="26.40" fill="#539FF5"/>
<rect x="543.00" y="224.80" width="1.75" height="28.60" fill="#068306"/>
<line x1="32.2" y1="280.1" x2="545.6" y2="280.1" stroke="#000" stroke-width="1.0"/>
<path d="M33.92 280.2V283.1M36.22 280.2V283.1M38.52 280.2V283.1M40.81 280.2V283.1M43.11 280.2V283.1M45.41 280.2V283.1M47.71 280.2V283.1M50.00 280.2V283.1M52.30 280.2V283.1M54.60 280.2V283.1M56.89 280.2V283.1M59.19 280.2V283.1M61.49 280.2V283.1M63.79 280.2V283.1M66.08 280.2V283.1M68.38 280.2V283.1M70.68 280.2V283.1M72.97 280.2V283.1M75.27 280.2V283.1M77.57 280.2V283.1M79.87 280.2V283.1M82.16 280.2V283.1M84.46 280.2V283.1M86.76 280.2V283.1M89.05 280.2V283.1M91.35 280.2V283.1M93.65 280.2V283.1M95.94 280.2V283.1M98.24 280.2V283.1M100.54 280.2V283.1M102.84 280.2V283.1M105.13 280.2V283.1M107.43 280.2V283.1M109.73 280.2V283.1M112.02 280.2V283.1M114.32 280.2V283.1M116.62 280.2V283.1M118.92 280.2V283.1M121.21 280.2V283.1M123.51 280.2V283.1M125.81 280.2V283.1M128.10 280.2V283.1M130.40 280.2V283.1M132.70 280.2V283.1M135.00 280.2V283.1M137.29 280.2V283.1M139.59 280.2V283.1M141.89 280.2V283.1M144.18 280.2V283.1M146.48 280.2V283.1M148.78 280.2V283.1M151.07 280.2V283.1M153.37 280.2V283.1M155.67 280.2V283.1M157.97 280.2V283.1M160.26 280.2V283.1M162.56 280.2V283.1M164.86 280.2V283.1M167.15 280.2V283.1M169.45 280.2V283.1M171.75 280.2V283.1M174.05 280.2V283.1M176.34 280.2V283.1M178.64 280.2V283.1M180.94 280.2V283.1M183.23 280.2V283.1M185.53 280.2V283.1M187.83 280.2V283.1M190.13 280.2V283.1M192.42 280.2V283.1M194.72 280.2V283.1M197.02 280.2V283.1M199.31 280.2V283.1M201.61 280.2V283.1M203.91 280.2V283.1M206.20 280.2V283.1M208.50 280.2V283.1M210.80 280.2V283.1M213.10 280.2V283.1M215.39 280.2V283.1M217.69 280.2V283.1M219.99 280.2V283.1M222.28 280.2V283.1M224.58 280.2V283.1M226.88 280.2V283.1M229.18 280.2V283.1M231.47 280.2V283.1M233.77 280.2V283.1M236.07 280.2V283.1M238.36 280.2V283.1M240.66 280.2V283.1M242.96 280.2V283.1M245.26 280.2V283.1M247.55 280.2V283.1M249.85 280.2V283.1M252.15 280.2V283.1M254.44 280.2V283.1M256.74 280.2V283.1M259.04 280.2V283.1M261.33 280.2V283.1M263.63 280.2V283.1M265.93 280.2V283.1M268.23 280.2V283.1M270.52 280.2V283.1M272.82 280.2V283.1M275.12 280.2V283.1M277.41 280.2V283.1M279.71 280.2V283.1M282.01 280.2V283.1M284.31 280.2V283.1M286.60 280.2V283.1M288.90 280.2V283.1M291.20 280.2V283.1M293.49 280.2V283.1M295.79 280.2V283.1M298.09 280.2V283.1M300.39 280.2V283.1M302.68 280.2V283.1M304.98 280.2V283.1M307.28 280.2V283.1M309.57 280.2V283.1M311.87 280.2V283.1M314.17 280.2V283.1M316.47 280.2V283.1M318.76 280.2V283.1M321.06 280.2V283.1M323.36 280.2V283.1M325.65 280.2V283.1M327.95 280.2V283.1M330.25 280.2V283.1M332.54 280.2V283.1M334.84 280.2V283.1M337.14 280.2V283.1M339.44 280.2V283.1M341.73 280.2V283.1M344.03 280.2V283.1M346.33 280.2V283.1M348.62 280.2V283.1M350.92 280.2V283.1M353.22 280.2V283.1M355.52 280.2V283.1M357.81 280.2V283.1M360.11 280.2V283.1M362.41 280.2V283.1M364.70 280.2V283.1M367.00 280.2V283.1M369.30 280.2V283.1M371.60 280.2V283.1M373.89 280.2V283.1M376.19 280.2V283.1M378.49 280.2V283.1M380.78 280.2V283.1M383.08 280.2V283.1M385.38 280.2V283.1M387.67 280.2V283.1M389.97 280.2V283.1M392.27 280.2V283.1M394.57 280.2V283.1M396.86 280.2V283.1M399.16 280.2V283.1M401.46 280.2V283.1M403.75 280.2V283.1M406.05 280.2V283.1M408.35 280.2V283.1M410.65 280.2V283.1M412.94 280.2V283.1M415.24 280.2V283.1M417.54 280.2V283.1M419.83 280.2V283.1M422.13 280.2V283.1M424.43 280.2V283.1M426.73 280.2V283.1M429.02 280.2V283.1M431.32 280.2V283.1M433.62 280.2V283.1M435.91 280.2V283.1M438.21 280.2V283.1M440.51 280.2V283.1M442.80 280.2V283.1M445.10 280.2V283.1M447.40 280.2V283.1M449.70 280.2V283.1M451.99 280.2V283.1M454.29 280.2V283.1M456.59 280.2V283.1M458.88 280.2V283.1M461.18 280.2V283.1M463.48 280.2V283.1M465.78 280.2V283.1M468.07 280.2V283.1M470.37 280.2V283.1M472.67 280.2V283.1M474.96 280.2V283.1M477.26 280.2V283.1M479.56 280.2V283.1M481.86 280.2V283.1M484.15 280.2V283.1M486.45 280.2V283.1M488.75 280.2V283.1M491.04 280.2V283.1M493.34 280.2V283.1M495.64 280.2V283.1M497.93 280.2V283.1M500.23 280.2V283.1M502.53 280.2V283.1M504.83 280.2V283.1M507.12 280.2V283.1M509.42 280.2V283.1M511.72 280.2V283.1M514.01 280.2V283.1M516.31 280.2V283.1M518.61 280.2V283.1M520.91 280.2V283.1M523.20 280.2V283.1M525.50 280.2V283.1M527.80 280.2V283.1M530.09 280.2V283.1M532.39 280.2V283.1M534.69 280.2V283.1M536.99 280.2V283.1M539.28 280.2V283.1M541.58 280.2V283.1M543.88 280.2V283.1" stroke="#000" stroke-width="1.1"/>
<rect x="33.17" y="283.1" width="1.5" height="2.1" fill="#c0c0c0"/>
<rect x="33.17" y="285.2" width="1.5" height="9.00" fill="#a0a0a0"/>
<rect x="33.17" y="294.20" width="1.5" height="1.0" fill="#888888"/>
<rect x="35.47" y="283.1" width="1.5" height="2.1" fill="#c0c0c0"/>
<rect x="35.47" y="285.2" width="1.5" height="9.00" fill="#a0a0a0"/>
<rect x="35.47" y="294.20" width="1.5" height="1.0" fill="#888888"/>
<rect x="37.77" y="283.1" width="1.5" height="2.1" fill="#c0c0c0"/>
<rect x="37.77" y="285.2" width="1.5" height="9.00" fill="#a0a0a0"/>
<rect x="37.77" y="294.20" width="1.5" height="1.0" fill="#888888"/>
<rect x="40.06" y="283.1" width="1.5" height="2.1" fill="#c0c0c0"/>
<rect x="40.06" y="285.2" width="1.5" height="9.00" fill="#a0a0a0"/>
<rect x="40.06" y="294.20" width="1.5" height="1.0" fill="#888888"/>
<rect x="42.36" y="283.1" width="1.5" height="2.1" fill="#c0c0c0"/>
<rect x="42.36" y="285.2" width="1.5" height="9.00" fill="#a0a0a0"/>
<rect x="42.36" y="294.20" width="1.5" height="1.0" fill="#888888"/>
<rect x="44.66" y="283.1" width="1.5" height="2.1" fill="#c0c0c0"/>
<rect x="44.66" y="285.2" width="1.5" height="9.00" fill="#a0a0a0"/>
<rect x="44.66" y="294.20" width="1.5" height="1.0" fill="#888888"/>
<rect x="46.96" y="283.1" width="1.5" height="2.1" fill="#c0c0c0"/>
<rect x="46.96" y="285.2" width="1.5" height="9.00" fill="#a0a0a0"/>
<rect x="46.96" y="294.20" width="1.5" height="1.0" fill="#888888"/>
<rect x="49.25" y="283.1" width="1.5" height="2.1" fill="#c0c0c0"/>
<rect x="49.25" y="285.2" width="1.5" height="9.00" fill="#a0a0a0"/>
<rect x="49.25" y="294.20" width="1.5" height="1.0" fill="#888888"/>
<rect x="51.55" y="283.1" width="1.5" height="2.1" fill="#c0c0c0"/>
<rect x="51.55" y="285.2" width="1.5" height="9.00" fill="#a0a0a0"/>
<rect x="51.55" y="294.20" width="1.5" height="1.0" fill="#888888"/>
<rect x="53.85" y="283.1" width="1.5" height="2.1" fill="#c0c0c0"/>
<rect x="53.85" y="285.2" width="1.5" height="9.00" fill="#a0a0a0"/>
<rect x="53.85" y="294.20" width="1.5" height="1.0" fill="#888888"/>
<rect x="56.14" y="283.1" width="1.5" height="2.1" fill="#c0c0c0"/>
<rect x="56.14" y="285.2" width="1.5" height="9.00" fill="#a0a0a0"/>
<rect x="56.14" y="294.20" width="1.5" height="1.0" fill="#888888"/>
<rect x="58.44" y="283.1" width="1.5" height="2.1" fill="#c0c0c0"/>
<rect x="58.44" y="285.2" width="1.5" height="7.80" fill="#a0a0a0"/>
<rect x="58.44" y="293.00" width="1.5" height="1.0" fill="#888888"/>
<rect x="60.74" y="283.1" width="1.5" height="2.1" fill="#c0c0c0"/>
<rect x="60.74" y="285.2" width="1.5" height="9.00" fill="#a0a0a0"/>
<rect x="60.74" y="294.20" width="1.5" height="1.0" fill="#888888"/>
<rect x="63.04" y="283.1" width="1.5" height="2.1" fill="#c0c0c0"/>
<rect x="63.04" y="285.2" width="1.5" height="9.00" fill="#a0a0a0"/>
<rect x="63.04" y="294.20" width="1.5" height="1.0" fill="#888888"/>
<rect x="65.33" y="283.1" width="1.5" height="2.1" fill="#c0c0c0"/>
<rect x="65.33" y="285.2" width="1.5" height="9.00" fill="#a0a0a0"/>
<rect x="65.33" y="294.20" width="1.5" height="1.0" fill="#888888"/>
<rect x="67.63" y="283.1" width="1.5" height="2.1" fill="#c0c0c0"/>
<rect x="67.63" y="285.2" width="1.5" height="9.00" fill="#a0a0a0"/>
<rect x="67.63" y="294.20" width="1.5" height="1.0" fill="#888888"/>
<rect x="69.93" y="283.1" width="1.5" height="2.1" fill="#c0c0c0"/>
<rect x="69.93" y="285.2" width="1.5" height="9.00" fill="#a0a0a0"/>
<rect x="69.93" y="294.20" width="1.5" height="1.0" fill="#888888"/>
<rect x="72.22" y="283.1" width="1.5" height="2.1" fill="#c0c0c0"/>
<rect x="72.22" y="285.2" width="1.5" height="9.00" fill="#a0a0a0"/>
<rect x="72.22" y="294.20" width="1.5" height="1.0" fill="#888888"/>
<rect x="74.52" y="283.1" width="1.5" height="2.1" fill="#c0c0c0"/>
<rect x="74.52" y="285.2" width="1.5" height="9.00" fill="#a0a0a0"/>
<rect x="74.52" y="294.20" width="1.5" height="1.0" fill="#888888"/>
<rect x="76.82" y="283.1" width="1.5" height="2.1" fill="#c0c0c0"/>
<rect x="76.82" y="285.2" width="1.5" height="9.00" fill="#a0a0a0"/>
<rect x="76.82" y="294.20" width="1.5" height="1.0" fill="#888888"/>
<rect x="79.12" y="283.1" width="1.5" height="2.1" fill="#c0c0c0"/>
<rect x="79.12" y="285.2" width="1.5" height="9.00" fill="#a0a0a0"/>
<rect x="79.12" y="294.20" width="1.5" height="1.0" fill="#888888"/>
<rect x="81.41" y="283.1" width="1.5" height="2.1" fill="#c0c0c0"/>
<rect x="81.41" y="285.2" width="1.5" height="7.80" fill="#a0a0a0"/>
<rect x="81.41" y="293.00" width="1.5" height="1.0" fill="#888888"/>
<rect x="83.71" y="283.1" width="1.5" height="2.1" fill="#c0c0c0"/>
<rect x="83.71" y="285.2" width="1.5" height="7.80" fill="#a0a0a0"/>
<rect x="83.71" y="293.00" width="1.5" height="1.0" fill="#888888"/>
<rect x="86.01" y="283.1" width="1.5" height="2.1" fill="#c0c0c0"/>
<rect x="86.01" y="285.2" width="1.5" height="9.00" fill="#a0a0a0"/>
<rect x="86.01" y="294.20" width="1.5" height="1.0" fill="#888888"/>
<rect x="88.30" y="283.1" width="1.5" height="2.1" fill="#c0c0c0"/>
<rect x="88.30" y="285.2" width="1.5" height="6.40" fill="#a0a0a0"/>
<rect x="88.30" y="291.60" width="1.5" height="1.0" fill="#888888"/>
<rect x="90.60" y="283.1" width="1.5" height="2.1" fill="#c0c0c0"/>
<rect x="90.60" y="285.2" width="1.5" height="6.40" fill="#a0a0a0"/>
<rect x="90.60" y="291.60" width="1.5" height="1.0" fill="#888888"/>
<rect x="92.90" y="283.1" width="1.5" height="2.1" fill="#c0c0c0"/>
<rect x="92.90" y="285.2" width="1.5" height="6.40" fill="#a0a0a0"/>
<rect x="92.90" y="291.60" width="1.5" height="1.0" fill="#888888"/>
<rect x="95.19" y="283.1" width="1.5" height="2.1" fill="#c0c0c0"/>
<rect x="95.19" y="285.2" width="1.5" height="6.40" fill="#a0a0a0"/>
<rect x="95.19" y="291.60" width="1.5" height="1.0" fill="#888888"/>
<rect x="97.49" y="283.1" width="1.5" height="2.1" fill="#c0c0c0"/>
<rect x="97.49" y="285.2" width="1.5" height="9.00" fill="#a0a0a0"/>
<rect x="97.49" y="294.20" width="1.5" height="1.0" fill="#888888"/>
<rect x="99.79" y="283.1" width="1.5" height="2.1" fill="#c0c0c0"/>
<rect x="99.79" y="285.2" width="1.5" height="9.00" fill="#a0a0a0"/>
<rect x="99.79" y="294.20" width="1.5" height="1.0" fill="#888888"/>
<rect x="102.09" y="283.1" width="1.5" height="2.1" fill="#c0c0c0"/>
<rect x="102.09" y="285.2" width="1.5" height="7.80" fill="#a0a0a0"/>
<rect x="102.09" y="293.00" width="1.5" height="1.0" fill="#888888"/>
<rect x="104.38" y="283.1" width="1.5" height="2.1" fill="#c0c0c0"/>
<rect x="104.38" y="285.2" width="1.5" height="13.30" fill="#a0a0a0"/>
<rect x="104.38" y="298.50" width="1.5" height="1.0" fill="#888888"/>
<rect x="106.68" y="283.1" width="1.5" height="2.1" fill="#c0c0c0"/>
<rect x="106.68" y="285.2" width="1.5" height="13.30" fill="#a0a0a0"/>
<rect x="106.68" y="298.50" width="1.5" height="1.0" fill="#888888"/>
<rect x="108.98" y="283.1" width="1.5" height="2.1" fill="#c0c0c0"/>
<rect x="108.98" y="285.2" width="1.5" height="13.30" fill="#a0a0a0"/>
<rect x="108.98" y="298.50" width="1.5" height="1.0" fill="#888888"/>
<rect x="111.27" y="283.1" width="1.5" height="2.1" fill="#c0c0c0"/>
<rect x="111.27" y="285.2" width="1.5" height="13.30" fill="#a0a0a0"/>
<rect x="111.27" y="298.50" width="1.5" height="1.0" fill="#888888"/>
<rect x="113.57" y="283.1" width="1.5" height="2.1" fill="#c0c0c0"/>
<rect x="113.57" y="285.2" width="1.5" height="13.30" fill="#a0a0a0"/>
<rect x="113.57" y="298.50" width="1.5" height="1.0" fill="#888888"/>
<rect x="115.87" y="283.1" width="1.5" height="2.1" fill="#c0c0c0"/>
<rect x="115.87" y="285.2" width="1.5" height="13.30" fill="#a0a0a0"/>
<rect x="115.87" y="298.50" width="1.5" height="1.0" fill="#888888"/>
<rect x="118.17" y="283.1" width="1.5" height="2.1" fill="#c0c0c0"/>
<rect x="118.17" y="285.2" width="1.5" height="13.30" fill="#a0a0a0"/>
<rect x="118.17" y="298.50" width="1.5" height="1.0" fill="#888888"/>
<rect x="120.46" y="283.1" width="1.5" height="2.1" fill="#c0c0c0"/>
<rect x="120.46" y="285.2" width="1.5" height="13.30" fill="#a0a0a0"/>
<rect x="120.46" y="298.50" width="1.5" height="1.0" fill="#888888"/>
<rect x="122.76" y="283.1" width="1.5" height="2.1" fill="#c0c0c0"/>
<rect x="122.76" y="285.2" width="1.5" height="13.30" fill="#a0a0a0"/>
<rect x="122.76" y="298.50" width="1.5" height="1.0" fill="#888888"/>
<rect x="125.06" y="283.1" width="1.5" height="2.1" fill="#c0c0c0"/>
<rect x="125.06" y="285.2" width="1.5" height="13.30" fill="#a0a0a0"/>
<rect x="125.06" y="298.50" width="1.5" height="1.0" fill="#888888"/>
<rect x="127.35" y="283.1" width="1.5" height="2.1" fill="#c0c0c0"/>
<rect x="127.35" y="285.2" width="1.5" height="13.30" fill="#a0a0a0"/>
<rect x="127.35" y="298.50" width="1.5" height="1.0" fill="#888888"/>
<rect x="129.65" y="283.1" width="1.5" height="2.1" fill="#c0c0c0"/>
<rect x="129.65" y="285.2" width="1.5" height="7.80" fill="#a0a0a0"/>
<rect x="129.65" y="293.00" width="1.5" height="1.0" fill="#888888"/>
<rect x="131.95" y="283.1" width="1.5" height="2.1" fill="#c0c0c0"/>
<rect x="131.95" y="285.2" width="1.5" height="7.80" fill="#a0a0a0"/>
<rect x="131.95" y="293.00" width="1.5" height="1.0" fill="#888888"/>
<rect x="134.25" y="283.1" width="1.5" height="2.1" fill="#c0c0c0"/>
<rect x="134.25" y="285.2" width="1.5" height="7.80" fill="#a0a0a0"/>
<rect x="134.25" y="293.00" width="1.5" height="1.0" fill="#888888"/>
<rect x="136.54" y="283.1" width="1.5" height="2.1" fill="#c0c0c0"/>
<rect x="136.54" y="285.2" width="1.5" height="7.80" fill="#a0a0a0"/>
<rect x="136.54" y="293.00" width="1.5" height="1.0" fill="#888888"/>
<rect x="138.84" y="283.1" width="1.5" height="2.1" fill="#c0c0c0"/>
<rect x="138.84" y="285.2" width="1.5" height="7.80" fill="#a0a0a0"/>
<rect x="138.84" y="293.00" width="1.5" height="1.0" fill="#888888"/>
<rect x="141.14" y="283.1" width="1.5" height="2.1" fill="#c0c0c0"/>
<rect x="141.14" y="285.2" width="1.5" height="7.80" fill="#a0a0a0"/>
<rect x="141.14" y="293.00" width="1.5" height="1.0" fill="#888888"/>
<rect x="143.43" y="283.1" width="1.5" height="2.1" fill="#c0c0c0"/>
<rect x="143.43" y="285.2" width="1.5" height="7.80" fill="#a0a0a0"/>
<rect x="143.43" y="293.00" width="1.5" height="1.0" fill="#888888"/>
<rect x="145.73" y="283.1" width="1.5" height="2.1" fill="#c0c0c0"/>
<rect x="145.73" y="285.2" width="1.5" height="7.80" fill="#a0a0a0"/>
<rect x="145.73" y="293.00" width="1.5" height="1.0" fill="#888888"/>
<rect x="148.03" y="283.1" width="1.5" height="2.1" fill="#c0c0c0"/>
<rect x="148.03" y="285.2" width="1.5" height="7.80" fill="#a0a0a0"/>
<rect x="148.03" y="293.00" width="1.5" height="1.0" fill="#888888"/>
<rect x="150.32" y="283.1" width="1.5" height="2.1" fill="#c0c0c0"/>
<rect x="150.32" y="285.2" width="1.5" height="13.30" fill="#a0a0a0"/>
<rect x="150.32" y="298.50" width="1.5" height="1.0" fill="#888888"/>
<rect x="152.62" y="283.1" width="1.5" height="2.1" fill="#c0c0c0"/>
<rect x="152.62" y="285.2" width="1.5" height="13.30" fill="#a0a0a0"/>
<rect x="152.62" y="298.50" width="1.5" height="1.0" fill="#888888"/>
<rect x="154.92" y="283.1" width="1.5" height="2.1" fill="#c0c0c0"/>
<rect x="154.92" y="285.2" width="1.5" height="13.30" fill="#a0a0a0"/>
<rect x="154.92" y="298.50" width="1.5" height="1.0" fill="#888888"/>
<rect x="157.22" y="283.1" width="1.5" height="2.1" fill="#c0c0c0"/>
<rect x="157.22" y="285.2" width="1.5" height="13.30" fill="#a0a0a0"/>
<rect x="157.22" y="298.50" width="1.5" height="1.0" fill="#888888"/>
<rect x="159.51" y="283.1" width="1.5" height="2.1" fill="#c0c0c0"/>
<rect x="159.51" y="285.2" width="1.5" height="13.30" fill="#a0a0a0"/>
<rect x="159.51" y="298.50" width="1.5" height="1.0" fill="#888888"/>
<rect x="161.81" y="283.1" width="1.5" height="2.1" fill="#c0c0c0"/>
<rect x="161.81" y="285.2" width="1.5" height="13.30" fill="#a0a0a0"/>
<rect x="161.81" y="298.50" width="1.5" height="1.0" fill="#888888"/>
<rect x="164.11" y="283.1" width="1.5" height="2.1" fill="#c0c0c0"/>
<rect x="164.11" y="285.2" width="1.5" height="13.30" fill="#a0a0a0"/>
<rect x="164.11" y="298.50" width="1.5" height="1.0" fill="#888888"/>
<rect x="166.40" y="283.1" width="1.5" height="2.1" fill="#c0c0c0"/>
<rect x="166.40" y="285.2" width="1.5" height="13.30" fill="#a0a0a0"/>
<rect x="166.40" y="298.50" width="1.5" height="1.0" fill="#888888"/>
<rect x="168.70" y="283.1" width="1.5" height="2.1" fill="#c0c0c0"/>
<rect x="168.70" y="285.2" width="1.5" height="13.30" fill="#a0a0a0"/>
<rect x="168.70" y="298.50" width="1.5" height="1.0" fill="#888888"/>
<rect x="171.00" y="283.1" width="1.5" height="2.1" fill="#c0c0c0"/>
<rect x="171.00" y="285.2" width="1.5" height="13.30" fill="#a0a0a0"/>
<rect x="171.00" y="298.50" width="1.5" height="1.0" fill="#888888"/>
<rect x="173.30" y="283.1" width="1.5" height="2.1" fill="#c0c0c0"/>
<rect x="173.30" y="285.2" width="1.5" height="13.30" fill="#a0a0a0"/>
<rect x="173.30" y="298.50" width="1.5" height="1.0" fill="#888888"/>
<rect x="175.59" y="283.1" width="1.5" height="2.1" fill="#c0c0c0"/>
<rect x="175.59" y="285.2" width="1.5" height="13.30" fill="#a0a0a0"/>
<rect x="175.59" y="298.50" width="1.5" height="1.0" fill="#888888"/>
<rect x="177.89" y="283.1" width="1.5" height="2.1" fill="#c0c0c0"/>
<rect x="177.89" y="285.2" width="1.5" height="13.30" fill="#a0a0a0"/>
<rect x="177.89" y="298.50" width="1.5" height="1.0" fill="#888888"/>
<rect x="180.19" y="283.1" width="1.5" height="2.1" fill="#c0c0c0"/>
<rect x="180.19" y="285.2" width="1.5" height="13.30" fill="#a0a0a0"/>
<rect x="180.19" y="298.50" width="1.5" height="1.0" fill="#888888"/>
<rect x="182.48" y="283.1" width="1.5" height="2.1" fill="#c0c0c0"/>
<rect x="182.48" y="285.2" width="1.5" height="13.30" fill="#a0a0a0"/>
<rect x="182.48" y="298.50" width="1.5" height="1.0" fill="#888888"/>
<rect x="184.78" y="283.1" width="1.5" height="2.1" fill="#c0c0c0"/>
<rect x="184.78" y="285.2" width="1.5" height="7.80" fill="#a0a0a0"/>
<rect x="184.78" y="293.00" width="1.5" height="1.0" fill="#888888"/>
<rect x="187.08" y="283.1" width="1.5" height="2.1" fill="#c0c0c0"/>
<rect x="187.08" y="285.2" width="1.5" height="13.30" fill="#a0a0a0"/>
<rect x="187.08" y="298.50" width="1.5" height="1.0" fill="#888888"/>
<rect x="189.38" y="283.1" width="1.5" height="2.1" fill="#c0c0c0"/>
<rect x="189.38" y="285.2" width="1.5" height="13.30" fill="#a0a0a0"/>
<rect x="189.38" y="298.50" width="1.5" height="1.0" fill="#888888"/>
<rect x="191.67" y="283.1" width="1.5" height="2.1" fill="#c0c0c0"/>
<rect x="191.67" y="285.2" width="1.5" height="13.30" fill="#a0a0a0"/>
<rect x="191.67" y="298.50" width="1.5" height="1.0" fill="#888888"/>
<rect x="193.97" y="283.1" width="1.5" height="2.1" fill="#c0c0c0"/>
<rect x="193.97" y="285.2" width="1.5" height="13.30" fill="#a0a0a0"/>
<rect x="193.97" y="298.50" width="1.5" height="1.0" fill="#888888"/>
<rect x="196.27" y="283.1" width="1.5" height="2.1" fill="#c0c0c0"/>
<rect x="196.27" y="285.2" width="1.5" height="13.30" fill="#a0a0a0"/>
<rect x="196.27" y="298.50" width="1.5" height="1.0" fill="#888888"/>
<rect x="198.56" y="283.1" width="1.5" height="2.1" fill="#c0c0c0"/>
<rect x="198.56" y="285.2" width="1.5" height="13.30" fill="#a0a0a0"/>
<rect x="198.56" y="298.50" width="1.5" height="1.0" fill="#888888"/>
<rect x="200.86" y="283.1" width="1.5" height="2.1" fill="#c0c0c0"/>
<rect x="200.86" y="285.2" width="1.5" height="6.80" fill="#a0a0a0"/>
<rect x="200.86" y="292.00" width="1.5" height="1.0" fill="#888888"/>
<rect x="203.16" y="283.1" width="1.5" height="2.1" fill="#c0c0c0"/>
<rect x="203.16" y="285.2" width="1.5" height="6.80" fill="#a0a0a0"/>
<rect x="203.16" y="292.00" width="1.5" height="1.0" fill="#888888"/>
<rect x="205.45" y="283.1" width="1.5" height="2.1" fill="#c0c0c0"/>
<rect x="205.45" y="285.2" width="1.5" height="6.80" fill="#a0a0a0"/>
<rect x="205.45" y="292.00" width="1.5" height="1.0" fill="#888888"/>
<rect x="207.75" y="283.1" width="1.5" height="2.1" fill="#c0c0c0"/>
<rect x="207.75" y="285.2" width="1.5" height="6.80" fill="#a0a0a0"/>
<rect x="207.75" y="292.00" width="1.5" height="1.0" fill="#888888"/>
<rect x="210.05" y="283.1" width="1.5" height="2.1" fill="#c0c0c0"/>
<rect x="210.05" y="285.2" width="1.5" height="6.80" fill="#a0a0a0"/>
<rect x="210.05" y="292.00" width="1.5" height="1.0" fill="#888888"/>
<rect x="212.35" y="283.1" width="1.5" height="2.1" fill="#c0c0c0"/>
<rect x="212.35" y="285.2" width="1.5" height="6.80" fill="#a0a0a0"/>
<rect x="212.35" y="292.00" width="1.5" height="1.0" fill="#888888"/>
<rect x="214.64" y="283.1" width="1.5" height="2.1" fill="#c0c0c0"/>
<rect x="214.64" y="285.2" width="1.5" height="6.80" fill="#a0a0a0"/>
<rect x="214.64" y="292.00" width="1.5" height="1.0" fill="#888888"/>
<rect x="216.94" y="283.1" width="1.5" height="2.1" fill="#c0c0c0"/>
<rect x="216.94" y="285.2" width="1.5" height="6.80" fill="#a0a0a0"/>
<rect x="216.94" y="292.00" width="1.5" height="1.0" fill="#888888"/>
<rect x="219.24" y="283.1" width="1.5" height="2.1" fill="#c0c0c0"/>
<rect x="219.24" y="285.2" width="1.5" height="6.80" fill="#a0a0a0"/>
<rect x="219.24" y="292.00" width="1.5" height="1.0" fill="#888888"/>
<rect x="221.53" y="283.1" width="1.5" height="2.1" fill="#c0c0c0"/>
<rect x="221.53" y="285.2" width="1.5" height="6.80" fill="#a0a0a0"/>
<rect x="221.53" y="292.00" width="1.5" height="1.0" fill="#888888"/>
<rect x="223.83" y="283.1" width="1.5" height="2.1" fill="#c0c0c0"/>
<rect x="223.83" y="285.2" width="1.5" height="6.80" fill="#a0a0a0"/>
<rect x="223.83" y="292.00" width="1.5" height="1.0" fill="#888888"/>
<rect x="226.13" y="283.1" width="1.5" height="2.1" fill="#c0c0c0"/>
<rect x="226.13" y="285.2" width="1.5" height="6.80" fill="#a0a0a0"/>
<rect x="226.13" y="292.00" width="1.5" height="1.0" fill="#888888"/>
<rect x="228.43" y="283.1" width="1.5" height="2.1" fill="#c0c0c0"/>
<rect x="228.43" y="285.2" width="1.5" height="6.80" fill="#a0a0a0"/>
<rect x="228.43" y="292.00" width="1.5" height="1.0" fill="#888888"/>
<rect x="230.72" y="283.1" width="1.5" height="2.1" fill="#c0c0c0"/>
<rect x="230.72" y="285.2" width="1.5" height="6.80" fill="#a0a0a0"/>
<rect x="230.72" y="292.00" width="1.5" height="1.0" fill="#888888"/>
<rect x="233.02" y="283.1" width="1.5" height="2.1" fill="#c0c0c0"/>
<rect x="233.02" y="285.2" width="1.5" height="6.80" fill="#a0a0a0"/>
<rect x="233.02" y="292.00" width="1.5" height="1.0" fill="#888888"/>
<rect x="235.32" y="283.1" width="1.5" height="2.1" fill="#c0c0c0"/>
<rect x="235.32" y="285.2" width="1.5" height="6.80" fill="#a0a0a0"/>
<rect x="235.32" y="292.00" width="1.5" height="1.0" fill="#888888"/>
<rect x="237.61" y="283.1" width="1.5" height="2.1" fill="#c0c0c0"/>
<rect x="237.61" y="285.2" width="1.5" height="6.80" fill="#a0a0a0"/>
<rect x="237.61" y="292.00" width="1.5" height="1.0" fill="#888888"/>
<rect x="239.91" y="283.1" width="1.5" height="2.1" fill="#c0c0c0"/>
<rect x="239.91" y="285.2" width="1.5" height="6.80" fill="#a0a0a0"/>
<rect x="239.91" y="292.00" width="1.5" height="1.0" fill="#888888"/>
<rect x="242.21" y="283.1" width="1.5" height="2.1" fill="#c0c0c0"/>
<rect x="242.21" y="285.2" width="1.5" height="6.80" fill="#a0a0a0"/>
<rect x="242.21" y="292.00" width="1.5" height="1.0" fill="#888888"/>
<rect x="244.51" y="283.1" width="1.5" height="2.1" fill="#c0c0c0"/>
<rect x="244.51" y="285.2" width="1.5" height="6.80" fill="#a0a0a0"/>
<rect x="244.51" y="292.00" width="1.5" height="1.0" fill="#888888"/>
<rect x="246.80" y="283.1" width="1.5" height="2.1" fill="#c0c0c0"/>
<rect x="246.80" y="285.2" width="1.5" height="6.80" fill="#a0a0a0"/>
<rect x="246.80" y="292.00" width="1.5" height="1.0" fill="#888888"/>
<rect x="249.10" y="283.1" width="1.5" height="2.1" fill="#c0c0c0"/>
<rect x="249.10" y="285.2" width="1.5" height="6.80" fill="#a0a0a0"/>
<rect x="249.10" y="292.00" width="1.5" height="1.0" fill="#888888"/>
<rect x="251.40" y="283.1" width="1.5" height="2.1" fill="#c0c0c0"/>
<rect x="251.40" y="285.2" width="1.5" height="6.80" fill="#a0a0a0"/>
<rect x="251.40" y="292.00" width="1.5" height="1.0" fill="#888888"/>
<rect x="253.69" y="283.1" width="1.5" height="2.1" fill="#c0c0c0"/>
<rect x="253.69" y="285.2" width="1.5" height="4.00" fill="#a0a0a0"/>
<rect x="253.69" y="289.20" width="1.5" height="1.0" fill="#888888"/>
<rect x="255.99" y="283.1" width="1.5" height="2.1" fill="#c0c0c0"/>
<rect x="255.99" y="285.2" width="1.5" height="4.00" fill="#a0a0a0"/>
<rect x="255.99" y="289.20" width="1.5" height="1.0" fill="#888888"/>
<rect x="258.29" y="283.1" width="1.5" height="2.1" fill="#c0c0c0"/>
<rect x="258.29" y="285.2" width="1.5" height="4.00" fill="#a0a0a0"/>
<rect x="258.29" y="289.20" width="1.5" height="1.0" fill="#888888"/>
<rect x="260.58" y="283.1" width="1.5" height="2.1" fill="#c0c0c0"/>
<rect x="260.58" y="285.2" width="1.5" height="4.00" fill="#a0a0a0"/>
<rect x="260.58" y="289.20" width="1.5" height="1.0" fill="#888888"/>
<rect x="262.88" y="283.1" width="1.5" height="2.1" fill="#c0c0c0"/>
<rect x="262.88" y="285.2" width="1.5" height="4.00" fill="#a0a0a0"/>
<rect x="262.88" y="289.20" width="1.5" height="1.0" fill="#888888"/>
<rect x="265.18" y="283.1" width="1.5" height="2.1" fill="#c0c0c0"/>
<rect x="265.18" y="285.2" width="1.5" height="4.00" fill="#a0a0a0"/>
<rect x="265.18" y="289.20" width="1.5" height="1.0" fill="#888888"/>
<rect x="267.48" y="283.1" width="1.5" height="2.1" fill="#c0c0c0"/>
<rect x="267.48" y="285.2" width="1.5" height="3.40" fill="#a0a0a0"/>
<rect x="267.48" y="288.60" width="1.5" height="1.0" fill="#888888"/>
<rect x="269.77" y="283.1" width="1.5" height="2.1" fill="#c0c0c0"/>
<rect x="269.77" y="285.2" width="1.5" height="3.40" fill="#a0a0a0"/>
<rect x="269.77" y="288.60" width="1.5" height="1.0" fill="#888888"/>
<rect x="272.07" y="283.1" width="1.5" height="2.1" fill="#c0c0c0"/>
<rect x="272.07" y="285.2" width="1.5" height="3.40" fill="#a0a0a0"/>
<rect x="272.07" y="288.60" width="1.5" height="1.0" fill="#888888"/>
<rect x="274.37" y="283.1" width="1.5" height="2.1" fill="#c0c0c0"/>
<rect x="274.37" y="285.2" width="1.5" height="3.40" fill="#a0a0a0"/>
<rect x="274.37" y="288.60" width="1.5" height="1.0" fill="#888888"/>
<rect x="276.66" y="283.1" width="1.5" height="2.1" fill="#c0c0c0"/>
<rect x="276.66" y="285.2" width="1.5" height="3.40" fill="#a0a0a0"/>
<rect x="276.66" y="288.60" width="1.5" height="1.0" fill="#888888"/>
<rect x="278.96" y="283.1" width="1.5" height="2.1" fill="#c0c0c0"/>
<rect x="278.96" y="285.2" width="1.5" height="3.40" fill="#a0a0a0"/>
<rect x="278.96" y="288.60" width="1.5" height="1.0" fill="#888888"/>
<rect x="281.26" y="283.1" width="1.5" height="2.1" fill="#c0c0c0"/>
<rect x="281.26" y="285.2" width="1.5" height="3.40" fill="#a0a0a0"/>
<rect x="281.26" y="288.60" width="1.5" height="1.0" fill="#888888"/>
<rect x="283.56" y="283.1" width="1.5" height="2.1" fill="#c0c0c0"/>
<rect x="283.56" y="285.2" width="1.5" height="3.40" fill="#a0a0a0"/>
<rect x="283.56" y="288.60" width="1.5" height="1.0" fill="#888888"/>
<rect x="285.85" y="283.1" width="1.5" height="2.1" fill="#c0c0c0"/>
<rect x="285.85" y="285.2" width="1.5" height="3.40" fill="#a0a0a0"/>
<rect x="285.85" y="288.60" width="1.5" height="1.0" fill="#888888"/>
<rect x="288.15" y="283.1" width="1.5" height="2.1" fill="#c0c0c0"/>
<rect x="288.15" y="285.2" width="1.5" height="3.40" fill="#a0a0a0"/>
<rect x="288.15" y="288.60" width="1.5" height="1.0" fill="#888888"/>
<rect x="290.45" y="283.1" width="1.5" height="2.1" fill="#c0c0c0"/>
<rect x="290.45" y="285.2" width="1.5" height="3.40" fill="#a0a0a0"/>
<rect x="290.45" y="288.60" width="1.5" height="1.0" fill="#888888"/>
<rect x="292.74" y="283.1" width="1.5" height="2.1" fill="#c0c0c0"/>
<rect x="292.74" y="285.2" width="1.5" height="3.40" fill="#a0a0a0"/>
<rect x="292.74" y="288.60" width="1.5" height="1.0" fill="#888888"/>
<rect x="295.04" y="283.1" width="1.5" height="2.1" fill="#c0c0c0"/>
<rect x="295.04" y="285.2" width="1.5" height="3.40" fill="#a0a0a0"/>
<rect x="295.04" y="288.60" width="1.5" height="1.0" fill="#888888"/>
<rect x="297.34" y="283.1" width="1.5" height="2.1" fill="#c0c0c0"/>
<rect x="297.34" y="285.2" width="1.5" height="3.40" fill="#a0a0a0"/>
<rect x="297.34" y="288.60" width="1.5" height="1.0" fill="#888888"/>
<rect x="299.64" y="283.1" width="1.5" height="2.1" fill="#c0c0c0"/>
<rect x="299.64" y="285.2" width="1.5" height="3.40" fill="#a0a0a0"/>
<rect x="299.64" y="288.60" width="1.5" height="1.0" fill="#888888"/>
<rect x="301.93" y="283.1" width="1.5" height="2.1" fill="#c0c0c0"/>
<rect x="301.93" y="285.2" width="1.5" height="3.40" fill="#a0a0a0"/>
<rect x="301.93" y="288.60" width="1.5" height="1.0" fill="#888888"/>
<rect x="304.23" y="283.1" width="1.5" height="2.1" fill="#c0c0c0"/>
<rect x="304.23" y="285.2" width="1.5" height="3.40" fill="#a0a0a0"/>
<rect x="304.23" y="288.60" width="1.5" height="1.0" fill="#888888"/>
<rect x="306.53" y="283.1" width="1.5" height="2.1" fill="#c0c0c0"/>
<rect x="306.53" y="285.2" width="1.5" height="3.40" fill="#a0a0a0"/>
<rect x="306.53" y="288.60" width="1.5" height="1.0" fill="#888888"/>
<rect x="308.82" y="283.1" width="1.5" height="2.1" fill="#c0c0c0"/>
<rect x="308.82" y="285.2" width="1.5" height="3.40" fill="#a0a0a0"/>
<rect x="308.82" y="288.60" width="1.5" height="1.0" fill="#888888"/>
<rect x="311.12" y="283.1" width="1.5" height="2.1" fill="#c0c0c0"/>
<rect x="311.12" y="285.2" width="1.5" height="3.40" fill="#a0a0a0"/>
<rect x="311.12" y="288.60" width="1.5" height="1.0" fill="#888888"/>
<rect x="313.42" y="283.1" width="1.5" height="2.1" fill="#c0c0c0"/>
<rect x="313.42" y="285.2" width="1.5" height="3.40" fill="#a0a0a0"/>
<rect x="313.42" y="288.60" width="1.5" height="1.0" fill="#888888"/>
<rect x="315.72" y="283.1" width="1.5" height="2.1" fill="#c0c0c0"/>
<rect x="315.72" y="285.2" width="1.5" height="3.40" fill="#a0a0a0"/>
<rect x="315.72" y="288.60" width="1.5" height="1.0" fill="#888888"/>
<rect x="318.01" y="283.1" width="1.5" height="2.1" fill="#c0c0c0"/>
<rect x="318.01" y="285.2" width="1.5" height="3.40" fill="#a0a0a0"/>
<rect x="318.01" y="288.60" width="1.5" height="1.0" fill="#888888"/>
<rect x="320.31" y="283.1" width="1.5" height="2.1" fill="#c0c0c0"/>
<rect x="320.31" y="285.2" width="1.5" height="3.40" fill="#a0a0a0"/>
<rect x="320.31" y="288.60" width="1.5" height="1.0" fill="#888888"/>
<rect x="322.61" y="283.1" width="1.5" height="2.1" fill="#c0c0c0"/>
<rect x="322.61" y="285.2" width="1.5" height="3.40" fill="#a0a0a0"/>
<rect x="322.61" y="288.60" width="1.5" height="1.0" fill="#888888"/>
<rect x="324.90" y="283.1" width="1.5" height="2.1" fill="#c0c0c0"/>
<rect x="324.90" y="285.2" width="1.5" height="3.40" fill="#a0a0a0"/>
<rect x="324.90" y="288.60" width="1.5" height="1.0" fill="#888888"/>
<rect x="327.20" y="283.1" width="1.5" height="2.1" fill="#c0c0c0"/>
<rect x="327.20" y="285.2" width="1.5" height="3.40" fill="#a0a0a0"/>
<rect x="327.20" y="288.60" width="1.5" height="1.0" fill="#888888"/>
<rect x="329.50" y="283.1" width="1.5" height="2.1" fill="#c0c0c0"/>
<rect x="329.50" y="285.2" width="1.5" height="3.40" fill="#a0a0a0"/>
<rect x="329.50" y="288.60" width="1.5" height="1.0" fill="#888888"/>
<rect x="331.79" y="283.1" width="1.5" height="2.1" fill="#c0c0c0"/>
<rect x="331.79" y="285.2" width="1.5" height="3.40" fill="#a0a0a0"/>
<rect x="331.79" y="288.60" width="1.5" height="1.0" fill="#888888"/>
<rect x="334.09" y="283.1" width="1.5" height="2.1" fill="#c0c0c0"/>
<rect x="334.09" y="285.2" width="1.5" height="3.40" fill="#a0a0a0"/>
<rect x="334.09" y="288.60" width="1.5" height="1.0" fill="#888888"/>
<rect x="336.39" y="283.1" width="1.5" height="2.1" fill="#c0c0c0"/>
<rect x="336.39" y="285.2" width="1.5" height="4.00" fill="#a0a0a0"/>
<rect x="336.39" y="289.20" width="1.5" height="1.0" fill="#888888"/>
<rect x="338.69" y="283.1" width="1.5" height="2.1" fill="#c0c0c0"/>
<rect x="338.69" y="285.2" width="1.5" height="5.80" fill="#a0a0a0"/>
<rect x="338.69" y="291.00" width="1.5" height="1.0" fill="#888888"/>
<rect x="340.98" y="283.1" width="1.5" height="2.1" fill="#c0c0c0"/>
<rect x="340.98" y="285.2" width="1.5" height="5.80" fill="#a0a0a0"/>
<rect x="340.98" y="291.00" width="1.5" height="1.0" fill="#888888"/>
<rect x="343.28" y="283.1" width="1.5" height="2.1" fill="#c0c0c0"/>
<rect x="343.28" y="285.2" width="1.5" height="5.80" fill="#a0a0a0"/>
<rect x="343.28" y="291.00" width="1.5" height="1.0" fill="#888888"/>
<rect x="345.58" y="283.1" width="1.5" height="2.1" fill="#c0c0c0"/>
<rect x="345.58" y="285.2" width="1.5" height="5.80" fill="#a0a0a0"/>
<rect x="345.58" y="291.00" width="1.5" height="1.0" fill="#888888"/>
<rect x="347.87" y="283.1" width="1.5" height="2.1" fill="#c0c0c0"/>
<rect x="347.87" y="285.2" width="1.5" height="5.80" fill="#a0a0a0"/>
<rect x="347.87" y="291.00" width="1.5" height="1.0" fill="#888888"/>
<rect x="350.17" y="283.1" width="1.5" height="2.1" fill="#c0c0c0"/>
<rect x="350.17" y="285.2" width="1.5" height="5.80" fill="#a0a0a0"/>
<rect x="350.17" y="291.00" width="1.5" height="1.0" fill="#888888"/>
<rect x="352.47" y="283.1" width="1.5" height="2.1" fill="#c0c0c0"/>
<rect x="352.47" y="285.2" width="1.5" height="5.80" fill="#a0a0a0"/>
<rect x="352.47" y="291.00" width="1.5" height="1.0" fill="#888888"/>
<rect x="354.77" y="283.1" width="1.5" height="2.1" fill="#c0c0c0"/>
<rect x="354.77" y="285.2" width="1.5" height="5.80" fill="#a0a0a0"/>
<rect x="354.77" y="291.00" width="1.5" height="1.0" fill="#888888"/>
<rect x="357.06" y="283.1" width="1.5" height="2.1" fill="#c0c0c0"/>
<rect x="357.06" y="285.2" width="1.5" height="5.80" fill="#a0a0a0"/>
<rect x="357.06" y="291.00" width="1.5" height="1.0" fill="#888888"/>
<rect x="359.36" y="283.1" width="1.5" height="2.1" fill="#c0c0c0"/>
<rect x="359.36" y="285.2" width="1.5" height="5.80" fill="#a0a0a0"/>
<rect x="359.36" y="291.00" width="1.5" height="1.0" fill="#888888"/>
<rect x="361.66" y="283.1" width="1.5" height="2.1" fill="#c0c0c0"/>
<rect x="361.66" y="285.2" width="1.5" height="5.80" fill="#a0a0a0"/>
<rect x="361.66" y="291.00" width="1.5" height="1.0" fill="#888888"/>
<rect x="363.95" y="283.1" width="1.5" height="2.1" fill="#c0c0c0"/>
<rect x="363.95" y="285.2" width="1.5" height="5.80" fill="#a0a0a0"/>
<rect x="363.95" y="291.00" width="1.5" height="1.0" fill="#888888"/>
<rect x="366.25" y="283.1" width="1.5" height="2.1" fill="#c0c0c0"/>
<rect x="366.25" y="285.2" width="1.5" height="5.80" fill="#a0a0a0"/>
<rect x="366.25" y="291.00" width="1.5" height="1.0" fill="#888888"/>
<rect x="368.55" y="283.1" width="1.5" height="2.1" fill="#c0c0c0"/>
<rect x="368.55" y="285.2" width="1.5" height="5.80" fill="#a0a0a0"/>
<rect x="368.55" y="291.00" width="1.5" height="1.0" fill="#888888"/>
<rect x="370.85" y="283.1" width="1.5" height="2.1" fill="#c0c0c0"/>
<rect x="370.85" y="285.2" width="1.5" height="5.80" fill="#a0a0a0"/>
<rect x="370.85" y="291.00" width="1.5" height="1.0" fill="#888888"/>
<rect x="373.14" y="283.1" width="1.5" height="2.1" fill="#c0c0c0"/>
<rect x="373.14" y="285.2" width="1.5" height="5.80" fill="#a0a0a0"/>
<rect x="373.14" y="291.00" width="1.5" height="1.0" fill="#888888"/>
<rect x="375.44" y="283.1" width="1.5" height="2.1" fill="#c0c0c0"/>
<rect x="375.44" y="285.2" width="1.5" height="5.80" fill="#a0a0a0"/>
<rect x="375.44" y="291.00" width="1.5" height="1.0" fill="#888888"/>
<rect x="377.74" y="283.1" width="1.5" height="2.1" fill="#c0c0c0"/>
<rect x="377.74" y="285.2" width="1.5" height="5.80" fill="#a0a0a0"/>
<rect x="377.74" y="291.00" width="1.5" height="1.0" fill="#888888"/>
<rect x="380.03" y="283.1" width="1.5" height="2.1" fill="#c0c0c0"/>
<rect x="380.03" y="285.2" width="1.5" height="5.80" fill="#a0a0a0"/>
<rect x="380.03" y="291.00" width="1.5" height="1.0" fill="#888888"/>
<rect x="382.33" y="283.1" width="1.5" height="2.1" fill="#c0c0c0"/>
<rect x="382.33" y="285.2" width="1.5" height="5.80" fill="#a0a0a0"/>
<rect x="382.33" y="291.00" width="1.5" height="1.0" fill="#888888"/>
<rect x="384.63" y="283.1" width="1.5" height="2.1" fill="#c0c0c0"/>
<rect x="384.63" y="285.2" width="1.5" height="5.80" fill="#a0a0a0"/>
<rect x="384.63" y="291.00" width="1.5" height="1.0" fill="#888888"/>
<rect x="386.92" y="283.1" width="1.5" height="2.1" fill="#c0c0c0"/>
<rect x="386.92" y="285.2" width="1.5" height="5.80" fill="#a0a0a0"/>
<rect x="386.92" y="291.00" width="1.5" height="1.0" fill="#888888"/>
<rect x="389.22" y="283.1" width="1.5" height="2.1" fill="#c0c0c0"/>
<rect x="389.22" y="285.2" width="1.5" height="4.00" fill="#a0a0a0"/>
<rect x="389.22" y="289.20" width="1.5" height="1.0" fill="#888888"/>
<rect x="391.52" y="283.1" width="1.5" height="2.1" fill="#c0c0c0"/>
<rect x="391.52" y="285.2" width="1.5" height="4.00" fill="#a0a0a0"/>
<rect x="391.52" y="289.20" width="1.5" height="1.0" fill="#888888"/>
<rect x="393.82" y="283.1" width="1.5" height="2.1" fill="#c0c0c0"/>
<rect x="393.82" y="285.2" width="1.5" height="5.80" fill="#a0a0a0"/>
<rect x="393.82" y="291.00" width="1.5" height="1.0" fill="#888888"/>
<rect x="396.11" y="283.1" width="1.5" height="2.1" fill="#c0c0c0"/>
<rect x="396.11" y="285.2" width="1.5" height="5.80" fill="#a0a0a0"/>
<rect x="396.11" y="291.00" width="1.5" height="1.0" fill="#888888"/>
<rect x="398.41" y="283.1" width="1.5" height="2.1" fill="#c0c0c0"/>
<rect x="398.41" y="285.2" width="1.5" height="5.80" fill="#a0a0a0"/>
<rect x="398.41" y="291.00" width="1.5" height="1.0" fill="#888888"/>
<rect x="400.71" y="283.1" width="1.5" height="2.1" fill="#c0c0c0"/>
<rect x="400.71" y="285.2" width="1.5" height="5.80" fill="#a0a0a0"/>
<rect x="400.71" y="291.00" width="1.5" height="1.0" fill="#888888"/>
<rect x="403.00" y="283.1" width="1.5" height="2.1" fill="#c0c0c0"/>
<rect x="403.00" y="285.2" width="1.5" height="5.80" fill="#a0a0a0"/>
<rect x="403.00" y="291.00" width="1.5" height="1.0" fill="#888888"/>
<rect x="405.30" y="283.1" width="1.5" height="2.1" fill="#c0c0c0"/>
<rect x="405.30" y="285.2" width="1.5" height="5.80" fill="#a0a0a0"/>
<rect x="405.30" y="291.00" width="1.5" height="1.0" fill="#888888"/>
<rect x="407.60" y="283.1" width="1.5" height="2.1" fill="#c0c0c0"/>
<rect x="407.60" y="285.2" width="1.5" height="4.20" fill="#a0a0a0"/>
<rect x="407.60" y="289.40" width="1.5" height="1.0" fill="#888888"/>
<rect x="409.90" y="283.1" width="1.5" height="2.1" fill="#c0c0c0"/>
<rect x="409.90" y="285.2" width="1.5" height="4.20" fill="#a0a0a0"/>
<rect x="409.90" y="289.40" width="1.5" height="1.0" fill="#888888"/>
<rect x="412.19" y="283.1" width="1.5" height="2.1" fill="#c0c0c0"/>
<rect x="412.19" y="285.2" width="1.5" height="4.20" fill="#a0a0a0"/>
<rect x="412.19" y="289.40" width="1.5" height="1.0" fill="#888888"/>
<rect x="414.49" y="283.1" width="1.5" height="2.1" fill="#c0c0c0"/>
<rect x="414.49" y="285.2" width="1.5" height="4.20" fill="#a0a0a0"/>
<rect x="414.49" y="289.40" width="1.5" height="1.0" fill="#888888"/>
<rect x="416.79" y="283.1" width="1.5" height="2.1" fill="#c0c0c0"/>
<rect x="416.79" y="285.2" width="1.5" height="4.20" fill="#a0a0a0"/>
<rect x="416.79" y="289.40" width="1.5" height="1.0" fill="#888888"/>
<rect x="419.08" y="283.1" width="1.5" height="2.1" fill="#c0c0c0"/>
<rect x="419.08" y="285.2" width="1.5" height="4.20" fill="#a0a0a0"/>
<rect x="419.08" y="289.40" width="1.5" height="1.0" fill="#888888"/>
<rect x="421.38" y="283.1" width="1.5" height="2.1" fill="#c0c0c0"/>
<rect x="421.38" y="285.2" width="1.5" height="4.20" fill="#a0a0a0"/>
<rect x="421.38" y="289.40" width="1.5" height="1.0" fill="#888888"/>
<rect x="423.68" y="283.1" width="1.5" height="2.1" fill="#c0c0c0"/>
<rect x="423.68" y="285.2" width="1.5" height="4.20" fill="#a0a0a0"/>
<rect x="423.68" y="289.40" width="1.5" height="1.0" fill="#888888"/>
<rect x="425.98" y="283.1" width="1.5" height="2.1" fill="#c0c0c0"/>
<rect x="425.98" y="285.2" width="1.5" height="4.20" fill="#a0a0a0"/>
<rect x="425.98" y="289.40" width="1.5" height="1.0" fill="#888888"/>
<rect x="428.27" y="283.1" width="1.5" height="2.1" fill="#c0c0c0"/>
<rect x="428.27" y="285.2" width="1.5" height="4.20" fill="#a0a0a0"/>
<rect x="428.27" y="289.40" width="1.5" height="1.0" fill="#888888"/>
<rect x="430.57" y="283.1" width="1.5" height="2.1" fill="#c0c0c0"/>
<rect x="430.57" y="285.2" width="1.5" height="4.20" fill="#a0a0a0"/>
<rect x="430.57" y="289.40" width="1.5" height="1.0" fill="#888888"/>
<rect x="432.87" y="283.1" width="1.5" height="2.1" fill="#c0c0c0"/>
<rect x="432.87" y="285.2" width="1.5" height="4.20" fill="#a0a0a0"/>
<rect x="432.87" y="289.40" width="1.5" height="1.0" fill="#888888"/>
<rect x="435.16" y="283.1" width="1.5" height="2.1" fill="#c0c0c0"/>
<rect x="435.16" y="285.2" width="1.5" height="4.20" fill="#a0a0a0"/>
<rect x="435.16" y="289.40" width="1.5" height="1.0" fill="#888888"/>
<rect x="437.46" y="283.1" width="1.5" height="2.1" fill="#c0c0c0"/>
<rect x="437.46" y="285.2" width="1.5" height="4.20" fill="#a0a0a0"/>
<rect x="437.46" y="289.40" width="1.5" height="1.0" fill="#888888"/>
<rect x="439.76" y="283.1" width="1.5" height="2.1" fill="#c0c0c0"/>
<rect x="439.76" y="285.2" width="1.5" height="4.20" fill="#a0a0a0"/>
<rect x="439.76" y="289.40" width="1.5" height="1.0" fill="#888888"/>
<rect x="442.05" y="283.1" width="1.5" height="2.1" fill="#c0c0c0"/>
<rect x="442.05" y="285.2" width="1.5" height="4.20" fill="#a0a0a0"/>
<rect x="442.05" y="289.40" width="1.5" height="1.0" fill="#888888"/>
<rect x="444.35" y="283.1" width="1.5" height="2.1" fill="#c0c0c0"/>
<rect x="444.35" y="285.2" width="1.5" height="4.20" fill="#a0a0a0"/>
<rect x="444.35" y="289.40" width="1.5" height="1.0" fill="#888888"/>
<rect x="446.65" y="283.1" width="1.5" height="2.1" fill="#c0c0c0"/>
<rect x="446.65" y="285.2" width="1.5" height="4.20" fill="#a0a0a0"/>
<rect x="446.65" y="289.40" width="1.5" height="1.0" fill="#888888"/>
<rect x="448.95" y="283.1" width="1.5" height="2.1" fill="#c0c0c0"/>
<rect x="448.95" y="285.2" width="1.5" height="4.20" fill="#a0a0a0"/>
<rect x="448.95" y="289.40" width="1.5" height="1.0" fill="#888888"/>
<rect x="451.24" y="283.1" width="1.5" height="2.1" fill="#c0c0c0"/>
<rect x="451.24" y="285.2" width="1.5" height="4.20" fill="#a0a0a0"/>
<rect x="451.24" y="289.40" width="1.5" height="1.0" fill="#888888"/>
<rect x="453.54" y="283.1" width="1.5" height="2.1" fill="#c0c0c0"/>
<rect x="453.54" y="285.2" width="1.5" height="4.20" fill="#a0a0a0"/>
<rect x="453.54" y="289.40" width="1.5" height="1.0" fill="#888888"/>
<rect x="455.84" y="283.1" width="1.5" height="2.1" fill="#c0c0c0"/>
<rect x="455.84" y="285.2" width="1.5" height="4.20" fill="#a0a0a0"/>
<rect x="455.84" y="289.40" width="1.5" height="1.0" fill="#888888"/>
<rect x="458.13" y="283.1" width="1.5" height="2.1" fill="#c0c0c0"/>
<rect x="458.13" y="285.2" width="1.5" height="4.20" fill="#a0a0a0"/>
<rect x="458.13" y="289.40" width="1.5" height="1.0" fill="#888888"/>
<rect x="460.43" y="283.1" width="1.5" height="2.1" fill="#c0c0c0"/>
<rect x="460.43" y="285.2" width="1.5" height="4.20" fill="#a0a0a0"/>
<rect x="460.43" y="289.40" width="1.5" height="1.0" fill="#888888"/>
<rect x="462.73" y="283.1" width="1.5" height="2.1" fill="#c0c0c0"/>
<rect x="462.73" y="285.2" width="1.5" height="4.20" fill="#a0a0a0"/>
<rect x="462.73" y="289.40" width="1.5" height="1.0" fill="#888888"/>
<rect x="465.03" y="283.1" width="1.5" height="2.1" fill="#c0c0c0"/>
<rect x="465.03" y="285.2" width="1.5" height="4.20" fill="#a0a0a0"/>
<rect x="465.03" y="289.40" width="1.5" height="1.0" fill="#888888"/>
<rect x="467.32" y="283.1" width="1.5" height="2.1" fill="#c0c0c0"/>
<rect x="467.32" y="285.2" width="1.5" height="4.20" fill="#a0a0a0"/>
<rect x="467.32" y="289.40" width="1.5" height="1.0" fill="#888888"/>
<rect x="469.62" y="283.1" width="1.5" height="2.1" fill="#c0c0c0"/>
<rect x="469.62" y="285.2" width="1.5" height="4.20" fill="#a0a0a0"/>
<rect x="469.62" y="289.40" width="1.5" height="1.0" fill="#888888"/>
<rect x="471.92" y="283.1" width="1.5" height="2.1" fill="#c0c0c0"/>
<rect x="471.92" y="285.2" width="1.5" height="4.20" fill="#a0a0a0"/>
<rect x="471.92" y="289.40" width="1.5" height="1.0" fill="#888888"/>
<rect x="474.21" y="283.1" width="1.5" height="2.1" fill="#c0c0c0"/>
<rect x="474.21" y="285.2" width="1.5" height="4.20" fill="#a0a0a0"/>
<rect x="474.21" y="289.40" width="1.5" height="1.0" fill="#888888"/>
<rect x="476.51" y="283.1" width="1.5" height="2.1" fill="#c0c0c0"/>
<rect x="476.51" y="285.2" width="1.5" height="7.40" fill="#a0a0a0"/>
<rect x="476.51" y="292.60" width="1.5" height="1.0" fill="#888888"/>
<rect x="478.81" y="283.1" width="1.5" height="2.1" fill="#c0c0c0"/>
<rect x="478.81" y="285.2" width="1.5" height="7.40" fill="#a0a0a0"/>
<rect x="478.81" y="292.60" width="1.5" height="1.0" fill="#888888"/>
<rect x="481.11" y="283.1" width="1.5" height="2.1" fill="#c0c0c0"/>
<rect x="481.11" y="285.2" width="1.5" height="7.40" fill="#a0a0a0"/>
<rect x="481.11" y="292.60" width="1.5" height="1.0" fill="#888888"/>
<rect x="483.40" y="283.1" width="1.5" height="2.1" fill="#c0c0c0"/>
<rect x="483.40" y="285.2" width="1.5" height="7.40" fill="#a0a0a0"/>
<rect x="483.40" y="292.60" width="1.5" height="1.0" fill="#888888"/>
<rect x="485.70" y="283.1" width="1.5" height="2.1" fill="#c0c0c0"/>
<rect x="485.70" y="285.2" width="1.5" height="7.40" fill="#a0a0a0"/>
<rect x="485.70" y="292.60" width="1.5" height="1.0" fill="#888888"/>
<rect x="488.00" y="283.1" width="1.5" height="2.1" fill="#c0c0c0"/>
<rect x="488.00" y="285.2" width="1.5" height="7.40" fill="#a0a0a0"/>
<rect x="488.00" y="292.60" width="1.5" height="1.0" fill="#888888"/>
<rect x="490.29" y="283.1" width="1.5" height="2.1" fill="#c0c0c0"/>
<rect x="490.29" y="285.2" width="1.5" height="7.40" fill="#a0a0a0"/>
<rect x="490.29" y="292.60" width="1.5" height="1.0" fill="#888888"/>
<rect x="492.59" y="283.1" width="1.5" height="2.1" fill="#c0c0c0"/>
<rect x="492.59" y="285.2" width="1.5" height="7.40" fill="#a0a0a0"/>
<rect x="492.59" y="292.60" width="1.5" height="1.0" fill="#888888"/>
<rect x="494.89" y="283.1" width="1.5" height="2.1" fill="#c0c0c0"/>
<rect x="494.89" y="285.2" width="1.5" height="7.40" fill="#a0a0a0"/>
<rect x="494.89" y="292.60" width="1.5" height="1.0" fill="#888888"/>
<rect x="497.18" y="283.1" width="1.5" height="2.1" fill="#c0c0c0"/>
<rect x="497.18" y="285.2" width="1.5" height="7.40" fill="#a0a0a0"/>
<rect x="497.18" y="292.60" width="1.5" height="1.0" fill="#888888"/>
<rect x="499.48" y="283.1" width="1.5" height="2.1" fill="#c0c0c0"/>
<rect x="499.48" y="285.2" width="1.5" height="7.40" fill="#a0a0a0"/>
<rect x="499.48" y="292.60" width="1.5" height="1.0" fill="#888888"/>
<rect x="501.78" y="283.1" width="1.5" height="2.1" fill="#c0c0c0"/>
<rect x="501.78" y="285.2" width="1.5" height="7.40" fill="#a0a0a0"/>
<rect x="501.78" y="292.60" width="1.5" height="1.0" fill="#888888"/>
<rect x="504.08" y="283.1" width="1.5" height="2.1" fill="#c0c0c0"/>
<rect x="504.08" y="285.2" width="1.5" height="7.40" fill="#a0a0a0"/>
<rect x="504.08" y="292.60" width="1.5" height="1.0" fill="#888888"/>
<rect x="506.37" y="283.1" width="1.5" height="2.1" fill="#c0c0c0"/>
<rect x="506.37" y="285.2" width="1.5" height="7.40" fill="#a0a0a0"/>
<rect x="506.37" y="292.60" width="1.5" height="1.0" fill="#888888"/>
<rect x="508.67" y="283.1" width="1.5" height="2.1" fill="#c0c0c0"/>
<rect x="508.67" y="285.2" width="1.5" height="7.40" fill="#a0a0a0"/>
<rect x="508.67" y="292.60" width="1.5" height="1.0" fill="#888888"/>
<rect x="510.97" y="283.1" width="1.5" height="2.1" fill="#c0c0c0"/>
<rect x="510.97" y="285.2" width="1.5" height="7.40" fill="#a0a0a0"/>
<rect x="510.97" y="292.60" width="1.5" height="1.0" fill="#888888"/>
<rect x="513.26" y="283.1" width="1.5" height="2.1" fill="#c0c0c0"/>
<rect x="513.26" y="285.2" width="1.5" height="7.40" fill="#a0a0a0"/>
<rect x="513.26" y="292.60" width="1.5" height="1.0" fill="#888888"/>
<rect x="515.56" y="283.1" width="1.5" height="2.1" fill="#c0c0c0"/>
<rect x="515.56" y="285.2" width="1.5" height="7.40" fill="#a0a0a0"/>
<rect x="515.56" y="292.60" width="1.5" height="1.0" fill="#888888"/>
<rect x="517.86" y="283.1" width="1.5" height="2.1" fill="#c0c0c0"/>
<rect x="517.86" y="285.2" width="1.5" height="7.40" fill="#a0a0a0"/>
<rect x="517.86" y="292.60" width="1.5" height="1.0" fill="#888888"/>
<rect x="520.16" y="283.1" width="1.5" height="2.1" fill="#c0c0c0"/>
<rect x="520.16" y="285.2" width="1.5" height="7.40" fill="#a0a0a0"/>
<rect x="520.16" y="292.60" width="1.5" height="1.0" fill="#888888"/>
<rect x="522.45" y="283.1" width="1.5" height="2.1" fill="#c0c0c0"/>
<rect x="522.45" y="285.2" width="1.5" height="7.40" fill="#a0a0a0"/>
<rect x="522.45" y="292.60" width="1.5" height="1.0" fill="#888888"/>
<rect x="524.75" y="283.1" width="1.5" height="2.1" fill="#c0c0c0"/>
<rect x="524.75" y="285.2" width="1.5" height="7.40" fill="#a0a0a0"/>
<rect x="524.75" y="292.60" width="1.5" height="1.0" fill="#888888"/>
<rect x="527.05" y="283.1" width="1.5" height="2.1" fill="#c0c0c0"/>
<rect x="527.05" y="285.2" width="1.5" height="7.40" fill="#a0a0a0"/>
<rect x="527.05" y="292.60" width="1.5" height="1.0" fill="#888888"/>
<rect x="529.34" y="283.1" width="1.5" height="2.1" fill="#c0c0c0"/>
<rect x="529.34" y="285.2" width="1.5" height="7.40" fill="#a0a0a0"/>
<rect x="529.34" y="292.60" width="1.5" height="1.0" fill="#888888"/>
<rect x="531.64" y="283.1" width="1.5" height="2.1" fill="#c0c0c0"/>
<rect x="531.64" y="285.2" width="1.5" height="7.40" fill="#a0a0a0"/>
<rect x="531.64" y="292.60" width="1.5" height="1.0" fill="#888888"/>
<rect x="533.94" y="283.1" width="1.5" height="2.1" fill="#c0c0c0"/>
<rect x="533.94" y="285.2" width="1.5" height="7.40" fill="#a0a0a0"/>
<rect x="533.94" y="292.60" width="1.5" height="1.0" fill="#888888"/>
<rect x="536.24" y="283.1" width="1.5" height="2.1" fill="#c0c0c0"/>
<rect x="536.24" y="285.2" width="1.5" height="7.40" fill="#a0a0a0"/>
<rect x="536.24" y="292.60" width="1.5" height="1.0" fill="#888888"/>
<rect x="538.53" y="283.1" width="1.5" height="2.1" fill="#c0c0c0"/>
<rect x="538.53" y="285.2" width="1.5" height="7.40" fill="#a0a0a0"/>
<rect x="538.53" y="292.60" width="1.5" height="1.0" fill="#888888"/>
<rect x="540.83" y="283.1" width="1.5" height="2.1" fill="#c0c0c0"/>
<rect x="540.83" y="285.2" width="1.5" height="7.40" fill="#a0a0a0"/>
<rect x="540.83" y="292.60" width="1.5" height="1.0" fill="#888888"/>
<rect x="543.13" y="283.1" width="1.5" height="2.1" fill="#c0c0c0"/>
<rect x="543.13" y="285.2" width="1.5" height="7.40" fill="#a0a0a0"/>
<rect x="543.13" y="292.60" width="1.5" height="1.0" fill="#888888"/>
</svg></body></html>
